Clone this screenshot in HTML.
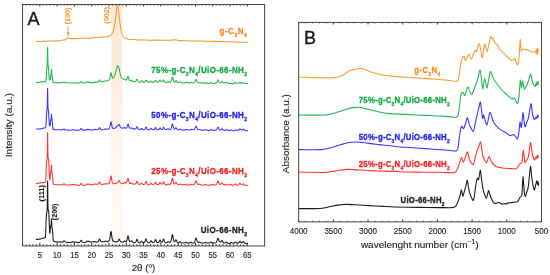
<!DOCTYPE html>
<html lang="en"><head><meta charset="utf-8"><title>XRD and FTIR of g-C3N4/UiO-66-NH2</title>
<style>html,body{margin:0;padding:0;background:#fff}svg{display:block}</style></head>
<body>
<svg width="550" height="275" viewBox="0 0 550 275">
<defs><linearGradient id="band" x1="0" y1="0" x2="0" y2="1"><stop offset="0" stop-color="#fde9d9"/><stop offset="0.3" stop-color="#fdecde"/><stop offset="0.5" stop-color="#fef2e8"/><stop offset="0.72" stop-color="#fff7f1"/><stop offset="1" stop-color="#fffaf6"/></linearGradient></defs>
<rect width="550" height="275" fill="#fff"/>
<rect x="111.2" y="4.5" width="11.0" height="241.45" fill="url(#band)"/>
<path d="M22.55 245.95v-3.2M22.55 4.5v2.0M26.01 245.95v-1.6M26.01 4.5v1.0M29.47 245.95v-1.6M29.47 4.5v1.0M32.92 245.95v-1.6M32.92 4.5v1.0M36.38 245.95v-1.6M36.38 4.5v1.0M39.84 245.95v-3.2M39.84 4.5v2.0M43.30 245.95v-1.6M43.30 4.5v1.0M46.76 245.95v-1.6M46.76 4.5v1.0M50.21 245.95v-1.6M50.21 4.5v1.0M53.67 245.95v-1.6M53.67 4.5v1.0M57.13 245.95v-3.2M57.13 4.5v2.0M60.59 245.95v-1.6M60.59 4.5v1.0M64.04 245.95v-1.6M64.04 4.5v1.0M67.50 245.95v-1.6M67.50 4.5v1.0M70.96 245.95v-1.6M70.96 4.5v1.0M74.42 245.95v-3.2M74.42 4.5v2.0M77.88 245.95v-1.6M77.88 4.5v1.0M81.33 245.95v-1.6M81.33 4.5v1.0M84.79 245.95v-1.6M84.79 4.5v1.0M88.25 245.95v-1.6M88.25 4.5v1.0M91.71 245.95v-3.2M91.71 4.5v2.0M95.17 245.95v-1.6M95.17 4.5v1.0M98.62 245.95v-1.6M98.62 4.5v1.0M102.08 245.95v-1.6M102.08 4.5v1.0M105.54 245.95v-1.6M105.54 4.5v1.0M109.00 245.95v-3.2M109.00 4.5v2.0M112.45 245.95v-1.6M112.45 4.5v1.0M115.91 245.95v-1.6M115.91 4.5v1.0M119.37 245.95v-1.6M119.37 4.5v1.0M122.83 245.95v-1.6M122.83 4.5v1.0M126.29 245.95v-3.2M126.29 4.5v2.0M129.74 245.95v-1.6M129.74 4.5v1.0M133.20 245.95v-1.6M133.20 4.5v1.0M136.66 245.95v-1.6M136.66 4.5v1.0M140.12 245.95v-1.6M140.12 4.5v1.0M143.58 245.95v-3.2M143.58 4.5v2.0M147.03 245.95v-1.6M147.03 4.5v1.0M150.49 245.95v-1.6M150.49 4.5v1.0M153.95 245.95v-1.6M153.95 4.5v1.0M157.41 245.95v-1.6M157.41 4.5v1.0M160.86 245.95v-3.2M160.86 4.5v2.0M164.32 245.95v-1.6M164.32 4.5v1.0M167.78 245.95v-1.6M167.78 4.5v1.0M171.24 245.95v-1.6M171.24 4.5v1.0M174.70 245.95v-1.6M174.70 4.5v1.0M178.15 245.95v-3.2M178.15 4.5v2.0M181.61 245.95v-1.6M181.61 4.5v1.0M185.07 245.95v-1.6M185.07 4.5v1.0M188.53 245.95v-1.6M188.53 4.5v1.0M191.99 245.95v-1.6M191.99 4.5v1.0M195.44 245.95v-3.2M195.44 4.5v2.0M198.90 245.95v-1.6M198.90 4.5v1.0M202.36 245.95v-1.6M202.36 4.5v1.0M205.82 245.95v-1.6M205.82 4.5v1.0M209.27 245.95v-1.6M209.27 4.5v1.0M212.73 245.95v-3.2M212.73 4.5v2.0M216.19 245.95v-1.6M216.19 4.5v1.0M219.65 245.95v-1.6M219.65 4.5v1.0M223.11 245.95v-1.6M223.11 4.5v1.0M226.56 245.95v-1.6M226.56 4.5v1.0M230.02 245.95v-3.2M230.02 4.5v2.0M233.48 245.95v-1.6M233.48 4.5v1.0M236.94 245.95v-1.6M236.94 4.5v1.0M240.40 245.95v-1.6M240.40 4.5v1.0M243.85 245.95v-1.6M243.85 4.5v1.0M247.31 245.95v-3.2M247.31 4.5v2.0" stroke="#2a2a2a" stroke-width="1" fill="none"/>
<path d="M298.65 221.85v-2.4M298.65 22.45v2.0M305.59 221.85v-1.1M305.59 22.45v0.9M312.52 221.85v-1.1M312.52 22.45v0.9M319.46 221.85v-1.1M319.46 22.45v0.9M326.40 221.85v-1.1M326.40 22.45v0.9M333.34 221.85v-2.4M333.34 22.45v2.0M340.27 221.85v-1.1M340.27 22.45v0.9M347.21 221.85v-1.1M347.21 22.45v0.9M354.15 221.85v-1.1M354.15 22.45v0.9M361.08 221.85v-1.1M361.08 22.45v0.9M368.02 221.85v-2.4M368.02 22.45v2.0M374.96 221.85v-1.1M374.96 22.45v0.9M381.90 221.85v-1.1M381.90 22.45v0.9M388.83 221.85v-1.1M388.83 22.45v0.9M395.77 221.85v-1.1M395.77 22.45v0.9M402.71 221.85v-2.4M402.71 22.45v2.0M409.64 221.85v-1.1M409.64 22.45v0.9M416.58 221.85v-1.1M416.58 22.45v0.9M423.52 221.85v-1.1M423.52 22.45v0.9M430.46 221.85v-1.1M430.46 22.45v0.9M437.39 221.85v-2.4M437.39 22.45v2.0M444.33 221.85v-1.1M444.33 22.45v0.9M451.27 221.85v-1.1M451.27 22.45v0.9M458.20 221.85v-1.1M458.20 22.45v0.9M465.14 221.85v-1.1M465.14 22.45v0.9M472.08 221.85v-2.4M472.08 22.45v2.0M479.02 221.85v-1.1M479.02 22.45v0.9M485.95 221.85v-1.1M485.95 22.45v0.9M492.89 221.85v-1.1M492.89 22.45v0.9M499.83 221.85v-1.1M499.83 22.45v0.9M506.76 221.85v-2.4M506.76 22.45v2.0M513.70 221.85v-1.1M513.70 22.45v0.9M520.64 221.85v-1.1M520.64 22.45v0.9M527.58 221.85v-1.1M527.58 22.45v0.9M534.51 221.85v-1.1M534.51 22.45v0.9M541.45 221.85v-2.4M541.45 22.45v2.0" stroke="#2a2a2a" stroke-width="1" fill="none"/>
<path d="M36.30 41.41L36.55 41.43L36.80 41.44L37.05 41.46L37.30 41.48L37.55 41.50L37.80 41.51L38.05 41.53L38.30 41.55L38.55 41.55L38.80 41.55L39.05 41.54L39.30 41.54L39.55 41.53L39.80 41.53L40.05 41.52L40.30 41.52L40.55 41.51L40.80 41.50L41.05 41.49L41.30 41.48L41.55 41.47L41.80 41.45L42.05 41.44L42.30 41.43L42.55 41.41L42.80 41.40L43.05 41.38L43.30 41.37L43.55 41.36L43.80 41.36L44.05 41.35L44.10 41.34L44.15 41.34L44.20 41.34L44.25 41.34L44.30 41.34L44.35 41.34L44.40 41.33L44.45 41.33L44.50 41.33L44.55 41.33L44.60 41.33L44.65 41.33L44.70 41.32L44.75 41.32L44.80 41.32L44.85 41.32L44.90 41.32L44.95 41.31L45.00 41.31L45.05 41.31L45.10 41.31L45.15 41.31L45.20 41.30L45.25 41.30L45.30 41.30L45.35 41.30L45.40 41.30L45.45 41.30L45.50 41.29L45.55 41.29L45.60 41.29L45.65 41.29L45.70 41.28L45.75 41.28L45.80 41.28L45.85 41.27L45.90 41.27L45.95 41.26L46.00 41.26L46.05 41.26L46.10 41.25L46.15 41.25L46.20 41.25L46.25 41.24L46.30 41.24L46.35 41.24L46.40 41.23L46.45 41.23L46.50 41.22L46.55 41.22L46.60 41.22L46.65 41.21L46.70 41.21L46.75 41.21L46.80 41.20L46.85 41.20L46.90 41.19L46.95 41.19L47.00 41.19L47.05 41.18L47.10 41.18L47.15 41.18L47.20 41.17L47.25 41.17L47.30 41.17L47.35 41.16L47.40 41.16L47.45 41.15L47.50 41.15L47.55 41.15L47.60 41.14L47.65 41.14L47.70 41.14L47.75 41.13L47.80 41.13L47.85 41.13L47.90 41.12L47.95 41.12L48.00 41.11L48.05 41.11L48.10 41.11L48.15 41.11L48.20 41.11L48.25 41.10L48.30 41.10L48.35 41.10L48.40 41.10L48.45 41.09L48.50 41.09L48.55 41.09L48.60 41.09L48.65 41.08L48.70 41.08L48.75 41.08L48.80 41.08L48.85 41.07L48.90 41.07L48.95 41.07L49.00 41.07L49.05 41.07L49.10 41.06L49.15 41.06L49.20 41.06L49.25 41.06L49.30 41.05L49.35 41.05L49.40 41.05L49.45 41.05L49.50 41.05L49.55 41.04L49.60 41.04L49.65 41.04L49.70 41.04L49.75 41.03L49.80 41.03L49.85 41.03L49.90 41.03L49.95 41.03L50.00 41.02L50.05 41.02L50.10 41.02L50.15 41.02L50.20 41.01L50.25 41.01L50.30 41.01L50.35 41.01L50.40 41.01L50.45 41.01L50.50 41.01L50.55 41.01L50.60 41.01L50.65 41.01L50.70 41.01L50.75 41.01L50.80 41.01L50.85 41.01L50.90 41.01L50.95 41.01L51.00 41.01L51.05 41.01L51.10 41.01L51.15 41.01L51.20 41.01L51.25 41.02L51.30 41.02L51.35 41.02L51.40 41.02L51.45 41.02L51.50 41.02L51.55 41.02L51.60 41.02L51.65 41.02L51.70 41.02L51.75 41.02L51.80 41.02L51.85 41.02L51.90 41.02L51.95 41.02L52.00 41.03L52.05 41.03L52.10 41.03L52.15 41.03L52.20 41.03L52.25 41.03L52.30 41.03L52.35 41.03L52.40 41.03L52.45 41.03L52.50 41.03L52.55 41.03L52.60 41.03L52.65 41.04L52.70 41.04L52.75 41.04L52.80 41.04L52.85 41.03L52.90 41.03L52.95 41.03L53.00 41.02L53.05 41.02L53.10 41.02L53.15 41.02L53.20 41.01L53.25 41.01L53.30 41.01L53.35 41.00L53.40 41.00L53.45 41.00L53.50 40.99L53.55 40.99L53.60 40.99L53.65 40.98L53.70 40.98L53.75 40.98L53.80 40.97L53.85 40.97L53.90 40.97L53.95 40.97L54.00 40.96L54.05 40.96L54.10 40.96L54.15 40.95L54.20 40.95L54.25 40.95L54.30 40.94L54.35 40.94L54.40 40.94L54.45 40.94L54.50 40.93L54.55 40.93L54.60 40.93L54.65 40.92L54.70 40.92L54.75 40.92L54.80 40.91L54.85 40.91L54.90 40.91L54.95 40.91L55.00 40.90L55.05 40.90L55.30 40.89L55.55 40.89L55.80 40.89L56.05 40.89L56.30 40.89L56.55 40.89L56.80 40.89L57.05 40.89L57.30 40.89L57.55 40.89L57.80 40.89L58.05 40.89L58.30 40.89L58.55 40.87L58.80 40.85L59.05 40.83L59.30 40.79L59.55 40.75L59.80 40.71L60.05 40.66L60.30 40.60L60.55 40.55L60.80 40.48L61.05 40.42L61.30 40.36L61.55 40.30L61.80 40.23L62.05 40.17L62.30 40.12L62.55 40.07L62.80 40.03L63.05 40.00L63.30 39.97L63.55 39.94L63.80 39.92L64.05 39.91L64.30 39.91L64.55 39.91L64.80 39.88L65.05 39.78L65.30 39.65L65.55 39.48L65.80 39.30L66.05 39.10L66.30 38.90L66.55 38.70L66.80 38.51L67.05 38.32L67.30 38.15L67.55 38.00L67.80 37.87L68.05 37.78L68.30 37.79L68.55 37.90L68.80 38.05L69.05 38.21L69.30 38.35L69.55 38.45L69.80 38.51L70.05 38.54L70.30 38.57L70.55 38.59L70.80 38.60L71.05 38.61L71.30 38.61L71.55 38.62L71.80 38.62L72.05 38.61L72.30 38.62L72.55 38.62L72.80 38.62L73.05 38.62L73.30 38.62L73.55 38.62L73.80 38.61L74.05 38.61L74.30 38.61L74.55 38.60L74.80 38.59L75.05 38.58L75.30 38.57L75.55 38.56L75.80 38.55L76.05 38.53L76.30 38.52L76.55 38.51L76.80 38.49L77.05 38.49L77.30 38.48L77.55 38.47L77.80 38.46L78.05 38.45L78.30 38.45L78.55 38.44L78.80 38.43L79.05 38.42L79.30 38.41L79.55 38.39L79.80 38.38L80.05 38.36L80.30 38.34L80.55 38.33L80.80 38.31L81.05 38.30L81.30 38.28L81.55 38.27L81.80 38.25L82.05 38.24L82.30 38.22L82.55 38.21L82.80 38.20L83.05 38.18L83.30 38.17L83.55 38.16L83.80 38.15L84.05 38.14L84.30 38.15L84.55 38.16L84.80 38.16L85.05 38.17L85.30 38.19L85.55 38.20L85.80 38.21L86.05 38.22L86.30 38.23L86.55 38.23L86.80 38.23L87.05 38.22L87.30 38.22L87.55 38.21L87.80 38.20L88.05 38.19L88.30 38.18L88.55 38.17L88.80 38.16L89.05 38.14L89.30 38.13L89.55 38.11L89.80 38.09L90.05 38.07L90.30 38.06L90.55 38.04L90.80 38.02L91.05 38.00L91.30 37.98L91.55 37.96L91.80 37.94L92.05 37.92L92.30 37.90L92.55 37.88L92.80 37.86L93.05 37.83L93.30 37.81L93.55 37.79L93.80 37.77L94.05 37.74L94.30 37.71L94.55 37.68L94.80 37.66L95.05 37.63L95.30 37.60L95.55 37.57L95.80 37.55L96.05 37.52L96.30 37.50L96.55 37.48L96.80 37.46L97.05 37.44L97.30 37.42L97.55 37.40L97.80 37.38L98.05 37.37L98.30 37.35L98.55 37.33L98.80 37.32L99.05 37.30L99.30 37.29L99.55 37.27L99.80 37.26L100.05 37.25L100.30 37.24L100.55 37.22L100.80 37.21L101.05 37.19L101.30 37.18L101.55 37.16L101.80 37.14L102.05 37.12L102.30 37.11L102.55 37.09L102.80 37.07L103.05 37.05L103.30 37.04L103.55 37.04L103.80 37.03L104.05 37.03L104.30 37.02L104.55 37.02L104.80 37.01L105.05 37.00L105.30 36.99L105.55 36.97L105.80 36.94L106.05 36.90L106.30 36.85L106.55 36.81L106.80 36.76L107.05 36.70L107.30 36.64L107.55 36.58L107.80 36.51L108.05 36.44L108.30 36.37L108.55 36.30L108.80 36.22L109.05 36.13L109.30 36.03L109.55 35.93L109.80 35.80L110.05 35.67L110.30 35.51L110.55 35.33L110.80 35.11L111.05 34.87L111.30 34.60L111.55 34.29L111.80 33.93L112.05 33.53L112.30 33.07L112.55 32.55L112.80 31.96L113.05 31.30L113.30 30.56L113.55 29.70L113.80 28.72L114.05 27.61L114.30 26.36L114.55 24.96L114.80 23.40L115.05 21.70L115.30 19.85L115.55 17.87L115.80 15.80L116.05 13.71L116.30 11.67L116.55 9.79L116.80 8.17L117.05 6.97L117.30 6.28L117.55 6.18L117.80 6.68L118.05 7.75L118.30 9.28L118.55 11.17L118.80 13.28L119.05 15.50L119.30 17.72L119.55 19.89L119.80 21.95L120.05 23.88L120.30 25.67L120.55 27.29L120.80 28.75L121.05 30.06L121.30 31.21L121.55 32.22L121.80 33.10L122.05 33.87L122.30 34.53L122.55 35.11L122.80 35.62L123.05 36.06L123.30 36.45L123.55 36.78L123.80 37.08L124.05 37.34L124.30 37.58L124.55 37.79L124.80 37.97L125.05 38.12L125.30 38.25L125.55 38.36L125.80 38.47L126.05 38.56L126.30 38.65L126.55 38.72L126.80 38.79L127.05 38.85L127.30 38.92L127.55 38.99L127.80 39.05L128.05 39.11L128.30 39.17L128.55 39.22L128.80 39.28L129.05 39.32L129.30 39.37L129.55 39.41L129.80 39.43L130.05 39.44L130.30 39.46L130.55 39.47L130.80 39.48L131.05 39.49L131.30 39.49L131.55 39.50L131.80 39.50L132.05 39.51L132.30 39.52L132.55 39.53L132.80 39.53L133.05 39.54L133.30 39.55L133.55 39.56L133.80 39.56L134.05 39.57L134.30 39.58L134.55 39.59L134.80 39.62L135.05 39.64L135.30 39.67L135.55 39.69L135.80 39.72L136.05 39.74L136.30 39.77L136.55 39.79L136.80 39.81L137.05 39.83L137.30 39.84L137.55 39.85L137.80 39.87L138.05 39.88L138.30 39.89L138.55 39.90L138.80 39.91L139.05 39.93L139.30 39.93L139.55 39.93L139.80 39.93L140.05 39.92L140.30 39.92L140.55 39.92L140.80 39.91L141.05 39.91L141.30 39.91L141.55 39.90L141.80 39.90L142.05 39.91L142.30 39.91L142.55 39.91L142.80 39.91L143.05 39.92L143.30 39.92L143.55 39.92L143.80 39.92L144.05 39.93L144.30 39.94L144.55 39.95L144.80 39.96L145.05 39.97L145.30 39.98L145.55 39.99L145.80 40.00L146.05 40.01L146.30 40.02L146.55 40.03L146.80 40.05L147.05 40.07L147.30 40.09L147.55 40.10L147.80 40.12L148.05 40.14L148.30 40.15L148.55 40.17L148.80 40.19L149.05 40.19L149.30 40.19L149.55 40.19L149.80 40.19L150.05 40.19L150.30 40.19L150.55 40.19L150.80 40.18L151.05 40.18L151.30 40.18L151.55 40.17L151.80 40.16L152.05 40.15L152.30 40.14L152.55 40.13L152.80 40.12L153.05 40.11L153.30 40.10L153.55 40.09L153.80 40.09L154.05 40.09L154.30 40.10L154.55 40.10L154.80 40.11L155.05 40.11L155.30 40.12L155.55 40.12L155.80 40.13L156.05 40.13L156.30 40.13L156.55 40.13L156.80 40.13L157.05 40.13L157.30 40.13L157.55 40.13L157.80 40.12L158.05 40.12L158.30 40.12L158.55 40.12L158.80 40.12L159.05 40.12L159.30 40.12L159.55 40.12L159.80 40.12L160.05 40.12L160.30 40.12L160.55 40.12L160.80 40.12L161.05 40.14L161.30 40.16L161.55 40.17L161.80 40.19L162.05 40.21L162.30 40.23L162.55 40.24L162.80 40.26L163.05 40.28L163.30 40.29L163.55 40.28L163.80 40.27L164.05 40.26L164.30 40.25L164.55 40.24L164.80 40.23L165.05 40.22L165.30 40.21L165.55 40.20L165.80 40.21L166.05 40.22L166.30 40.23L166.55 40.24L166.80 40.25L167.05 40.26L167.30 40.28L167.55 40.29L167.80 40.30L168.05 40.31L168.30 40.31L168.55 40.31L168.80 40.31L169.05 40.31L169.30 40.30L169.55 40.30L169.80 40.29L170.05 40.29L170.30 40.28L170.55 40.26L170.80 40.25L171.05 40.22L171.30 40.20L171.55 40.17L171.80 40.14L172.05 40.10L172.30 40.06L172.55 40.02L172.80 39.98L173.05 39.95L173.30 39.92L173.55 39.89L173.80 39.87L174.05 39.85L174.30 39.83L174.55 39.83L174.80 39.83L175.05 39.85L175.30 39.86L175.55 39.88L175.80 39.90L176.05 39.93L176.30 39.96L176.55 40.00L176.80 40.05L177.05 40.09L177.30 40.13L177.55 40.17L177.80 40.23L178.05 40.29L178.30 40.34L178.55 40.39L178.80 40.44L179.05 40.48L179.30 40.52L179.55 40.56L179.80 40.59L180.05 40.62L180.30 40.62L180.55 40.63L180.80 40.63L181.05 40.64L181.30 40.64L181.55 40.64L181.80 40.64L182.05 40.64L182.30 40.64L182.55 40.64L182.80 40.66L183.05 40.68L183.30 40.69L183.55 40.71L183.80 40.72L184.05 40.73L184.30 40.75L184.55 40.76L184.80 40.78L185.05 40.78L185.30 40.78L185.55 40.79L185.80 40.79L186.05 40.79L186.30 40.80L186.55 40.80L186.80 40.80L187.05 40.81L187.30 40.81L187.55 40.82L187.80 40.83L188.05 40.84L188.30 40.84L188.55 40.85L188.80 40.86L189.05 40.87L189.30 40.87L189.55 40.88L189.80 40.90L190.05 40.92L190.30 40.94L190.55 40.96L190.80 40.98L191.05 41.00L191.30 41.02L191.55 41.04L191.80 41.06L192.05 41.08L192.30 41.08L192.55 41.08L192.80 41.08L193.05 41.08L193.30 41.09L193.55 41.09L193.80 41.09L194.05 41.09L194.30 41.09L194.55 41.08L194.80 41.08L195.05 41.07L195.30 41.06L195.55 41.06L195.80 41.05L196.05 41.04L196.30 41.03L196.55 41.03L196.80 41.02L197.05 41.03L197.30 41.05L197.55 41.06L197.80 41.08L198.05 41.09L198.30 41.10L198.55 41.12L198.80 41.13L199.05 41.14L199.30 41.14L199.55 41.13L199.80 41.12L200.05 41.10L200.30 41.09L200.55 41.08L200.80 41.06L201.05 41.05L201.30 41.04L201.55 41.02L201.80 41.03L202.05 41.03L202.30 41.04L202.55 41.04L202.80 41.05L203.05 41.06L203.30 41.06L203.55 41.07L203.80 41.07L204.05 41.08L204.30 41.10L204.55 41.11L204.80 41.12L205.05 41.13L205.30 41.15L205.55 41.16L205.80 41.17L206.05 41.19L206.30 41.20L206.55 41.21L206.80 41.21L207.05 41.21L207.30 41.21L207.55 41.21L207.80 41.21L208.05 41.21L208.30 41.21L208.55 41.21L208.80 41.21L209.05 41.21L209.30 41.20L209.55 41.20L209.80 41.19L210.05 41.19L210.30 41.18L210.55 41.18L210.80 41.17L211.05 41.17L211.30 41.18L211.55 41.20L211.80 41.23L212.05 41.25L212.30 41.28L212.55 41.30L212.80 41.33L213.05 41.36L213.30 41.38L213.55 41.41L213.80 41.41L214.05 41.40L214.30 41.39L214.55 41.38L214.80 41.37L215.05 41.37L215.30 41.36L215.55 41.35L215.80 41.34L216.05 41.34L216.30 41.35L216.55 41.36L216.80 41.37L217.05 41.38L217.30 41.39L217.55 41.40L217.80 41.41L218.05 41.42L218.30 41.43L218.55 41.44L218.80 41.46L219.05 41.48L219.30 41.50L219.55 41.52L219.80 41.54L220.05 41.56L220.30 41.58L220.55 41.60L220.80 41.62L221.05 41.62L221.30 41.62L221.55 41.62L221.80 41.62L222.05 41.62L222.30 41.62L222.55 41.62L222.80 41.62L223.05 41.62L223.30 41.62L223.55 41.63L223.80 41.64L224.05 41.65L224.30 41.66L224.55 41.67L224.80 41.68L225.05 41.69L225.30 41.69L225.55 41.70L225.80 41.71L226.05 41.71L226.30 41.72L226.55 41.72L226.80 41.73L227.05 41.73L227.30 41.74L227.55 41.74L227.80 41.75L228.05 41.75L228.30 41.76L228.55 41.77L228.80 41.78L229.05 41.79L229.30 41.80L229.55 41.81L229.80 41.82L230.05 41.83L230.30 41.84L230.55 41.85L230.80 41.87L231.05 41.89L231.30 41.91L231.55 41.93L231.80 41.95L232.05 41.96L232.30 41.98L232.55 42.00L232.80 42.02L233.05 42.02L233.30 42.02L233.55 42.02L233.80 42.02L234.05 42.02L234.30 42.02L234.55 42.03L234.80 42.03L235.05 42.03L235.30 42.03L235.55 42.05L235.80 42.06L236.05 42.08L236.30 42.09L236.55 42.11L236.80 42.12L237.05 42.13L237.30 42.15L237.55 42.16L237.80 42.17L238.05 42.17L238.30 42.17L238.55 42.17L238.80 42.17L239.05 42.17L239.30 42.17L239.55 42.17L239.80 42.17L240.05 42.18L240.30 42.18L240.55 42.19L240.80 42.20L241.05 42.20L241.30 42.21L241.55 42.22L241.80 42.22L242.05 42.23L242.30 42.23L242.55 42.24L242.80 42.26L243.05 42.27L243.30 42.29L243.55 42.30L243.80 42.31L244.05 42.33L244.30 42.34L244.55 42.35L244.80 42.37L245.05 42.36L245.30 42.35L245.55 42.34L245.80 42.34L246.05 42.33L246.30 42.32L246.55 42.31L246.80 42.30L247.05 42.29L247.30 42.29L247.55 42.29" stroke="#f99a30" stroke-width="1.08" fill="none" stroke-linejoin="round" stroke-linecap="round"/>
<path d="M36.30 82.72L36.55 82.68L36.80 82.64L37.05 82.59L37.30 82.54L37.55 82.49L37.80 82.44L38.05 82.38L38.30 82.32L38.55 82.29L38.80 82.27L39.05 82.25L39.30 82.23L39.55 82.21L39.80 82.19L40.05 82.16L40.30 82.14L40.55 82.12L40.80 82.09L41.05 82.06L41.30 82.03L41.55 81.99L41.80 81.96L42.05 81.93L42.30 81.89L42.55 81.86L42.80 81.83L43.05 81.79L43.30 81.77L43.55 81.77L43.80 81.78L44.05 81.78L44.10 81.78L44.15 81.78L44.20 81.78L44.25 81.78L44.30 81.78L44.35 81.77L44.40 81.77L44.45 81.77L44.50 81.77L44.55 81.77L44.60 81.77L44.65 81.77L44.70 81.77L44.75 81.77L44.80 81.77L44.85 81.77L44.90 81.76L44.95 81.76L45.00 81.76L45.05 81.76L45.10 81.76L45.15 81.75L45.20 81.75L45.25 81.75L45.30 81.74L45.35 81.74L45.40 81.73L45.45 81.72L45.50 81.70L45.55 81.68L45.60 81.64L45.65 81.58L45.70 81.50L45.75 81.38L45.80 81.23L45.85 81.03L45.90 80.78L45.95 80.47L46.00 80.09L46.05 79.63L46.10 79.10L46.15 78.50L46.20 77.82L46.25 77.08L46.30 76.28L46.35 75.44L46.40 74.58L46.45 73.70L46.50 72.82L46.55 71.96L46.60 71.13L46.65 70.34L46.70 69.60L46.75 68.92L46.80 68.31L46.85 67.76L46.90 67.27L46.95 66.84L47.00 66.45L47.05 66.06L47.10 65.63L47.15 65.04L47.20 64.18L47.25 62.91L47.30 61.08L47.35 58.66L47.40 55.77L47.45 52.72L47.50 49.96L47.55 48.02L47.60 47.30L47.65 47.96L47.70 49.83L47.75 52.53L47.80 55.52L47.85 58.35L47.90 60.70L47.95 62.46L48.00 63.68L48.05 64.47L48.10 64.99L48.15 65.36L48.20 65.69L48.25 66.02L48.30 66.38L48.35 66.81L48.40 67.30L48.45 67.86L48.50 68.48L48.55 69.16L48.60 69.90L48.65 70.67L48.70 71.49L48.75 72.31L48.80 73.15L48.85 73.97L48.90 74.76L48.95 75.52L49.00 76.22L49.05 76.86L49.10 77.44L49.15 77.94L49.20 78.36L49.25 78.72L49.30 79.01L49.35 79.24L49.40 79.42L49.45 79.56L49.50 79.66L49.55 79.73L49.60 79.79L49.65 79.83L49.70 79.86L49.75 79.88L49.80 79.89L49.85 79.89L49.90 79.89L49.95 79.86L50.00 79.82L50.05 79.75L50.10 79.64L50.15 79.49L50.20 79.30L50.25 79.06L50.30 78.77L50.35 78.43L50.40 78.06L50.45 77.67L50.50 77.25L50.55 76.83L50.60 76.41L50.65 76.01L50.70 75.63L50.75 75.28L50.80 74.97L50.85 74.71L50.90 74.48L50.95 74.28L51.00 74.10L51.05 73.90L51.10 73.66L51.15 73.32L51.20 72.85L51.25 72.24L51.30 71.50L51.35 70.73L51.40 70.04L51.45 69.58L51.50 69.45L51.55 69.68L51.60 70.26L51.65 71.05L51.70 71.93L51.75 72.77L51.80 73.49L51.85 74.06L51.90 74.50L51.95 74.85L52.00 75.15L52.05 75.43L52.10 75.73L52.15 76.05L52.20 76.42L52.25 76.82L52.30 77.26L52.35 77.73L52.40 78.23L52.45 78.74L52.50 79.25L52.55 79.75L52.60 80.22L52.65 80.67L52.70 81.07L52.75 81.42L52.80 81.72L52.85 81.95L52.90 82.14L52.95 82.28L53.00 82.39L53.05 82.46L53.10 82.52L53.15 82.55L53.20 82.58L53.25 82.59L53.30 82.60L53.35 82.61L53.40 82.61L53.45 82.62L53.50 82.62L53.55 82.62L53.60 82.62L53.65 82.62L53.70 82.62L53.75 82.62L53.80 82.62L53.85 82.62L53.90 82.62L53.95 82.62L54.00 82.62L54.05 82.62L54.10 82.62L54.15 82.62L54.20 82.62L54.25 82.61L54.30 82.61L54.35 82.61L54.40 82.61L54.45 82.61L54.50 82.60L54.55 82.60L54.60 82.60L54.65 82.60L54.70 82.59L54.75 82.59L54.80 82.59L54.85 82.58L54.90 82.58L54.95 82.58L55.00 82.57L55.05 82.57L55.30 82.58L55.55 82.63L55.80 82.67L56.05 82.71L56.30 82.75L56.55 82.79L56.80 82.83L57.05 82.87L57.30 82.90L57.55 82.94L57.80 82.92L58.05 82.90L58.30 82.87L58.55 82.84L58.80 82.81L59.05 82.79L59.30 82.76L59.55 82.73L59.80 82.70L60.05 82.68L60.30 82.67L60.55 82.66L60.80 82.65L61.05 82.64L61.30 82.62L61.55 82.61L61.80 82.59L62.05 82.56L62.30 82.52L62.55 82.48L62.80 82.44L63.05 82.35L63.30 82.20L63.55 82.03L63.80 81.89L64.05 81.89L64.30 82.06L64.55 82.33L64.80 82.61L65.05 82.75L65.30 82.84L65.55 82.88L65.80 82.90L66.05 82.89L66.30 82.88L66.55 82.85L66.80 82.83L67.05 82.80L67.30 82.78L67.55 82.79L67.80 82.80L68.05 82.80L68.30 82.81L68.55 82.81L68.80 82.81L69.05 82.81L69.30 82.81L69.55 82.81L69.80 82.85L70.05 82.89L70.30 82.93L70.55 82.96L70.80 82.98L71.05 82.99L71.30 82.98L71.55 82.93L71.80 82.85L72.05 82.75L72.30 82.62L72.55 82.58L72.80 82.64L73.05 82.77L73.30 82.88L73.55 82.97L73.80 83.00L74.05 83.00L74.30 82.95L74.55 82.86L74.80 82.77L75.05 82.72L75.30 82.74L75.55 82.79L75.80 82.84L76.05 82.88L76.30 82.89L76.55 82.89L76.80 82.87L77.05 82.92L77.30 82.97L77.55 83.01L77.80 83.04L78.05 83.08L78.30 83.11L78.55 83.14L78.80 83.16L79.05 83.18L79.30 83.16L79.55 83.07L79.80 82.95L80.05 82.77L80.30 82.52L80.55 82.20L80.80 81.84L81.05 81.57L81.30 81.51L81.55 81.70L81.80 82.01L82.05 82.32L82.30 82.56L82.55 82.73L82.80 82.83L83.05 82.90L83.30 82.93L83.55 82.95L83.80 82.97L84.05 82.97L84.30 82.93L84.55 82.89L84.80 82.85L85.05 82.79L85.30 82.72L85.55 82.63L85.80 82.51L86.05 82.34L86.30 82.13L86.55 81.93L86.80 81.78L87.05 81.76L87.30 81.87L87.55 82.06L87.80 82.24L88.05 82.35L88.30 82.39L88.55 82.38L88.80 82.36L89.05 82.33L89.30 82.38L89.55 82.47L89.80 82.55L90.05 82.62L90.30 82.66L90.55 82.67L90.80 82.67L91.05 82.66L91.30 82.65L91.55 82.65L91.80 82.66L92.05 82.66L92.30 82.65L92.55 82.65L92.80 82.63L93.05 82.60L93.30 82.56L93.55 82.48L93.80 82.37L94.05 82.24L94.30 82.12L94.55 82.08L94.80 82.11L95.05 82.20L95.30 82.29L95.55 82.35L95.80 82.39L96.05 82.40L96.30 82.37L96.55 82.33L96.80 82.28L97.05 82.22L97.30 82.15L97.55 82.07L97.80 81.97L98.05 81.83L98.30 81.63L98.55 81.37L98.80 81.03L99.05 80.61L99.30 80.19L99.55 79.96L99.80 80.05L100.05 80.40L100.30 80.82L100.55 81.18L100.80 81.44L101.05 81.60L101.30 81.69L101.55 81.73L101.80 81.74L102.05 81.74L102.30 81.72L102.55 81.70L102.80 81.68L103.05 81.65L103.30 81.61L103.55 81.58L103.80 81.54L104.05 81.48L104.30 81.39L104.55 81.28L104.80 81.14L105.05 80.97L105.30 80.83L105.55 80.76L105.80 80.78L106.05 80.85L106.30 80.92L106.55 80.96L106.80 80.97L107.05 80.94L107.30 80.89L107.55 80.83L107.80 80.74L108.05 80.64L108.30 80.54L108.55 80.42L108.80 80.25L109.05 80.02L109.30 79.68L109.55 79.16L109.80 78.40L110.05 77.34L110.30 75.99L110.55 74.50L110.80 73.26L111.05 72.84L111.30 73.44L111.55 74.62L111.80 75.86L112.05 76.87L112.30 77.57L112.55 77.97L112.80 78.13L113.05 78.06L113.30 77.88L113.55 77.61L113.80 77.26L114.05 76.83L114.30 76.34L114.55 75.76L114.80 75.10L115.05 74.35L115.30 73.54L115.55 72.68L115.80 71.74L116.05 70.73L116.30 69.68L116.55 68.63L116.80 67.65L117.05 66.82L117.30 66.21L117.55 65.90L117.80 65.84L118.05 66.05L118.30 66.47L118.55 67.02L118.80 67.68L119.05 68.47L119.30 69.48L119.55 70.69L119.80 71.96L120.05 73.15L120.30 74.22L120.55 75.13L120.80 75.88L121.05 76.50L121.30 77.02L121.55 77.46L121.80 77.82L122.05 78.13L122.30 78.40L122.55 78.64L122.80 78.85L123.05 79.01L123.30 79.13L123.55 79.18L123.80 79.17L124.05 79.12L124.30 79.08L124.55 79.15L124.80 79.37L125.05 79.60L125.30 79.82L125.55 79.99L125.80 80.08L126.05 80.09L126.30 79.99L126.55 79.77L126.80 79.38L127.05 78.79L127.30 78.01L127.55 77.15L127.80 76.45L128.05 76.28L128.30 76.77L128.55 77.65L128.80 78.57L129.05 79.34L129.30 79.92L129.55 80.30L129.80 80.55L130.05 80.68L130.30 80.72L130.55 80.68L130.80 80.57L131.05 80.42L131.30 80.29L131.55 80.30L131.80 80.47L132.05 80.73L132.30 81.00L132.55 81.22L132.80 81.39L133.05 81.51L133.30 81.59L133.55 81.66L133.80 81.70L134.05 81.74L134.30 81.77L134.55 81.76L134.80 81.71L135.05 81.64L135.30 81.54L135.55 81.38L135.80 81.14L136.05 80.77L136.30 80.29L136.55 79.73L136.80 79.26L137.05 79.20L137.30 79.55L137.55 80.14L137.80 80.73L138.05 81.21L138.30 81.58L138.55 81.83L138.80 82.02L139.05 82.15L139.30 82.20L139.55 82.17L139.80 82.11L140.05 82.03L140.30 81.90L140.55 81.72L140.80 81.49L141.05 81.22L141.30 80.99L141.55 80.89L141.80 81.05L142.05 81.32L142.30 81.59L142.55 81.81L142.80 81.98L143.05 82.10L143.30 82.19L143.55 82.25L143.80 82.28L144.05 82.29L144.30 82.22L144.55 82.10L144.80 81.89L145.05 81.56L145.30 81.11L145.55 80.59L145.80 80.15L146.05 80.03L146.30 80.33L146.55 80.82L146.80 81.30L147.05 81.68L147.30 81.93L147.55 82.08L147.80 82.15L148.05 82.17L148.30 82.16L148.55 82.13L148.80 82.09L149.05 82.12L149.30 82.13L149.55 82.11L149.80 82.03L150.05 81.88L150.30 81.66L150.55 81.39L150.80 81.18L151.05 81.15L151.30 81.33L151.55 81.60L151.80 81.88L152.05 82.09L152.30 82.23L152.55 82.31L152.80 82.34L153.05 82.34L153.30 82.31L153.55 82.26L153.80 82.21L154.05 82.11L154.30 81.93L154.55 81.66L154.80 81.28L155.05 80.84L155.30 80.48L155.55 80.38L155.80 80.63L156.05 81.07L156.30 81.47L156.55 81.79L156.80 82.00L157.05 82.12L157.30 82.17L157.55 82.18L157.80 82.16L158.05 82.11L158.30 82.02L158.55 81.91L158.80 81.74L159.05 81.47L159.30 81.11L159.55 80.69L159.80 80.34L160.05 80.23L160.30 80.46L160.55 80.86L160.80 81.26L161.05 81.58L161.30 81.80L161.55 81.92L161.80 81.95L162.05 81.91L162.30 81.77L162.55 81.52L162.80 81.15L163.05 80.68L163.30 80.22L163.55 80.01L163.80 80.18L164.05 80.66L164.30 81.22L164.55 81.71L164.80 82.08L165.05 82.35L165.30 82.53L165.55 82.65L165.80 82.66L166.05 82.63L166.30 82.59L166.55 82.51L166.80 82.41L167.05 82.26L167.30 82.07L167.55 81.86L167.80 81.67L168.05 81.59L168.30 81.70L168.55 81.88L168.80 82.06L169.05 82.20L169.30 82.30L169.55 82.35L169.80 82.36L170.05 82.33L170.30 82.25L170.55 82.08L170.80 81.79L171.05 81.34L171.30 80.68L171.55 79.81L171.80 78.78L172.05 77.78L172.30 77.15L172.55 77.24L172.80 77.98L173.05 79.01L173.30 80.01L173.55 80.83L173.80 81.42L174.05 81.79L174.30 81.98L174.55 82.02L174.80 81.92L175.05 81.70L175.30 81.37L175.55 80.98L175.80 80.66L176.05 80.57L176.30 80.76L176.55 81.11L176.80 81.49L177.05 81.82L177.30 82.07L177.55 82.23L177.80 82.36L178.05 82.43L178.30 82.47L178.55 82.47L178.80 82.43L179.05 82.35L179.30 82.23L179.55 82.08L179.80 81.95L180.05 81.92L180.30 82.04L180.55 82.22L180.80 82.41L181.05 82.56L181.30 82.67L181.55 82.75L181.80 82.80L182.05 82.84L182.30 82.87L182.55 82.90L182.80 82.92L183.05 82.95L183.30 82.97L183.55 82.98L183.80 83.00L184.05 83.01L184.30 83.01L184.55 82.99L184.80 82.96L185.05 82.84L185.30 82.70L185.55 82.53L185.80 82.39L186.05 82.33L186.30 82.36L186.55 82.44L186.80 82.53L187.05 82.59L187.30 82.66L187.55 82.74L187.80 82.81L188.05 82.86L188.30 82.90L188.55 82.94L188.80 82.98L189.05 83.01L189.30 83.03L189.55 83.03L189.80 82.98L190.05 82.89L190.30 82.77L190.55 82.63L190.80 82.52L191.05 82.48L191.30 82.56L191.55 82.69L191.80 82.82L192.05 82.92L192.30 82.99L192.55 83.03L192.80 83.05L193.05 83.04L193.30 83.01L193.55 82.97L193.80 82.89L194.05 82.77L194.30 82.58L194.55 82.27L194.80 81.84L195.05 81.30L195.30 80.68L195.55 80.06L195.80 79.58L196.05 79.41L196.30 79.63L196.55 80.09L196.80 80.63L197.05 81.23L197.30 81.72L197.55 82.10L197.80 82.37L198.05 82.54L198.30 82.63L198.55 82.65L198.80 82.62L199.05 82.56L199.30 82.49L199.55 82.43L199.80 82.48L200.05 82.59L200.30 82.71L200.55 82.80L200.80 82.87L201.05 82.90L201.30 82.91L201.55 82.90L201.80 82.93L202.05 82.97L202.30 83.00L202.55 83.02L202.80 83.05L203.05 83.07L203.30 83.09L203.55 83.11L203.80 83.12L204.05 83.13L204.30 83.13L204.55 83.12L204.80 83.08L205.05 83.02L205.30 82.93L205.55 82.83L205.80 82.74L206.05 82.73L206.30 82.82L206.55 82.96L206.80 83.10L207.05 83.22L207.30 83.31L207.55 83.38L207.80 83.43L208.05 83.46L208.30 83.49L208.55 83.51L208.80 83.53L209.05 83.49L209.30 83.43L209.55 83.37L209.80 83.28L210.05 83.16L210.30 83.00L210.55 82.83L210.80 82.68L211.05 82.61L211.30 82.68L211.55 82.85L211.80 83.02L212.05 83.17L212.30 83.28L212.55 83.36L212.80 83.43L213.05 83.48L213.30 83.52L213.55 83.55L213.80 83.54L214.05 83.51L214.30 83.48L214.55 83.44L214.80 83.40L215.05 83.35L215.30 83.29L215.55 83.22L215.80 83.11L216.05 82.97L216.30 82.77L216.55 82.49L216.80 82.11L217.05 81.63L217.30 81.07L217.55 80.51L217.80 80.09L218.05 79.96L218.30 80.19L218.55 80.66L218.80 81.21L219.05 81.71L219.30 82.12L219.55 82.42L219.80 82.61L220.05 82.70L220.30 82.72L220.55 82.65L220.80 82.51L221.05 82.29L221.30 82.02L221.55 81.75L221.80 81.54L222.05 81.49L222.30 81.63L222.55 81.89L222.80 82.19L223.05 82.46L223.30 82.68L223.55 82.85L223.80 82.97L224.05 83.05L224.30 83.09L224.55 83.10L224.80 83.09L225.05 83.05L225.30 82.98L225.55 82.88L225.80 82.75L226.05 82.62L226.30 82.51L226.55 82.49L226.80 82.58L227.05 82.72L227.30 82.88L227.55 83.02L227.80 83.13L228.05 83.21L228.30 83.29L228.55 83.35L228.80 83.39L229.05 83.42L229.30 83.43L229.55 83.43L229.80 83.40L230.05 83.34L230.30 83.26L230.55 83.16L230.80 83.08L231.05 83.08L231.30 83.16L231.55 83.29L231.80 83.44L232.05 83.56L232.30 83.66L232.55 83.74L232.80 83.79L233.05 83.76L233.30 83.71L233.55 83.65L233.80 83.57L234.05 83.47L234.30 83.33L234.55 83.16L234.80 82.97L235.05 82.76L235.30 82.60L235.55 82.55L235.80 82.62L236.05 82.77L236.30 82.92L236.55 83.05L236.80 83.15L237.05 83.21L237.30 83.24L237.55 83.25L237.80 83.29L238.05 83.31L238.30 83.31L238.55 83.27L238.80 83.17L239.05 83.02L239.30 82.82L239.55 82.60L239.80 82.43L240.05 82.40L240.30 82.51L240.55 82.72L240.80 82.96L241.05 83.15L241.30 83.28L241.55 83.33L241.80 83.31L242.05 83.21L242.30 83.04L242.55 82.83L242.80 82.59L243.05 82.38L243.30 82.29L243.55 82.38L243.80 82.60L244.05 82.85L244.30 83.08L244.55 83.26L244.80 83.38L245.05 83.46L245.30 83.52L245.55 83.55L245.80 83.56L246.05 83.57L246.30 83.58L246.55 83.58L246.80 83.58L247.05 83.58L247.30 83.59L247.55 83.61" stroke="#21b851" stroke-width="1.08" fill="none" stroke-linejoin="round" stroke-linecap="round"/>
<path d="M36.30 129.01L36.55 129.02L36.80 129.03L37.05 129.04L37.30 129.04L37.55 129.04L37.80 129.04L38.05 129.04L38.30 129.03L38.55 129.02L38.80 129.00L39.05 128.99L39.30 128.97L39.55 128.95L39.80 128.93L40.05 128.91L40.30 128.88L40.55 128.86L40.80 128.84L41.05 128.77L41.30 128.71L41.55 128.65L41.80 128.58L42.05 128.52L42.30 128.45L42.55 128.39L42.80 128.32L43.05 128.26L43.30 128.20L43.55 128.15L43.80 128.09L44.05 128.04L44.10 128.03L44.15 128.02L44.20 128.01L44.25 128.00L44.30 127.99L44.35 127.98L44.40 127.97L44.45 127.96L44.50 127.94L44.55 127.93L44.60 127.92L44.65 127.91L44.70 127.90L44.75 127.89L44.80 127.88L44.85 127.87L44.90 127.85L44.95 127.84L45.00 127.83L45.05 127.82L45.10 127.81L45.15 127.79L45.20 127.78L45.25 127.77L45.30 127.75L45.35 127.73L45.40 127.70L45.45 127.66L45.50 127.61L45.55 127.53L45.60 127.43L45.65 127.30L45.70 127.13L45.75 126.89L45.80 126.59L45.85 126.21L45.90 125.75L45.95 125.20L46.00 124.57L46.05 123.84L46.10 123.04L46.15 122.17L46.20 121.24L46.25 120.27L46.30 119.27L46.35 118.28L46.40 117.29L46.45 116.33L46.50 115.41L46.55 114.54L46.60 113.74L46.65 113.00L46.70 112.34L46.75 111.75L46.80 111.24L46.85 110.80L46.90 110.42L46.95 110.09L47.00 109.78L47.05 109.47L47.10 109.08L47.15 108.50L47.20 107.58L47.25 106.17L47.30 104.10L47.35 101.35L47.40 98.03L47.45 94.51L47.50 91.34L47.55 89.11L47.60 88.29L47.65 89.06L47.70 91.24L47.75 94.36L47.80 97.83L47.85 101.09L47.90 103.80L47.95 105.82L48.00 107.19L48.05 108.04L48.10 108.55L48.15 108.88L48.20 109.13L48.25 109.37L48.30 109.65L48.35 109.97L48.40 110.35L48.45 110.81L48.50 111.34L48.55 111.95L48.60 112.64L48.65 113.39L48.70 114.21L48.75 115.09L48.80 116.00L48.85 116.95L48.90 117.91L48.95 118.87L49.00 119.81L49.05 120.71L49.10 121.55L49.15 122.33L49.20 123.04L49.25 123.65L49.30 124.19L49.35 124.64L49.40 125.00L49.45 125.30L49.50 125.53L49.55 125.71L49.60 125.84L49.65 125.93L49.70 125.99L49.75 126.03L49.80 126.04L49.85 126.03L49.90 125.98L49.95 125.91L50.00 125.79L50.05 125.62L50.10 125.39L50.15 125.11L50.20 124.78L50.25 124.39L50.30 123.95L50.35 123.48L50.40 122.98L50.45 122.50L50.50 122.02L50.55 121.56L50.60 121.13L50.65 120.74L50.70 120.39L50.75 120.10L50.80 119.85L50.85 119.65L50.90 119.49L50.95 119.36L51.00 119.23L51.05 119.08L51.10 118.85L51.15 118.51L51.20 118.00L51.25 117.32L51.30 116.49L51.35 115.60L51.40 114.82L51.45 114.29L51.50 114.14L51.55 114.42L51.60 115.08L51.65 116.00L51.70 117.01L51.75 117.97L51.80 118.79L51.85 119.43L51.90 119.90L51.95 120.25L52.00 120.53L52.05 120.79L52.10 121.04L52.15 121.33L52.20 121.65L52.25 122.01L52.30 122.43L52.35 122.89L52.40 123.40L52.45 123.94L52.50 124.51L52.55 125.09L52.60 125.68L52.65 126.26L52.70 126.81L52.75 127.33L52.80 127.79L52.85 128.18L52.90 128.52L52.95 128.79L53.00 129.01L53.05 129.17L53.10 129.29L53.15 129.38L53.20 129.44L53.25 129.49L53.30 129.52L53.35 129.54L53.40 129.55L53.45 129.56L53.50 129.57L53.55 129.58L53.60 129.59L53.65 129.59L53.70 129.60L53.75 129.60L53.80 129.61L53.85 129.61L53.90 129.62L53.95 129.62L54.00 129.63L54.05 129.63L54.10 129.64L54.15 129.64L54.20 129.64L54.25 129.65L54.30 129.65L54.35 129.65L54.40 129.65L54.45 129.66L54.50 129.66L54.55 129.66L54.60 129.66L54.65 129.66L54.70 129.67L54.75 129.67L54.80 129.67L54.85 129.67L54.90 129.67L54.95 129.67L55.00 129.67L55.05 129.67L55.30 129.69L55.55 129.71L55.80 129.73L56.05 129.75L56.30 129.77L56.55 129.78L56.80 129.79L57.05 129.80L57.30 129.80L57.55 129.80L57.80 129.80L58.05 129.81L58.30 129.81L58.55 129.81L58.80 129.81L59.05 129.81L59.30 129.81L59.55 129.81L59.80 129.81L60.05 129.81L60.30 129.82L60.55 129.83L60.80 129.84L61.05 129.85L61.30 129.86L61.55 129.86L61.80 129.86L62.05 129.85L62.30 129.83L62.55 129.80L62.80 129.73L63.05 129.61L63.30 129.45L63.55 129.25L63.80 129.09L64.05 129.07L64.30 129.23L64.55 129.48L64.80 129.75L65.05 129.90L65.30 130.00L65.55 130.05L65.80 130.07L66.05 130.07L66.30 130.06L66.55 130.04L66.80 130.02L67.05 130.00L67.30 130.00L67.55 130.03L67.80 130.06L68.05 130.10L68.30 130.13L68.55 130.16L68.80 130.19L69.05 130.22L69.30 130.24L69.55 130.27L69.80 130.28L70.05 130.28L70.30 130.28L70.55 130.28L70.80 130.27L71.05 130.23L71.30 130.18L71.55 130.10L71.80 129.98L72.05 129.83L72.30 129.70L72.55 129.65L72.80 129.71L73.05 129.83L73.30 129.95L73.55 130.03L73.80 130.06L74.05 130.05L74.30 129.99L74.55 129.93L74.80 129.88L75.05 129.88L75.30 129.95L75.55 130.05L75.80 130.15L76.05 130.24L76.30 130.30L76.55 130.34L76.80 130.37L77.05 130.36L77.30 130.34L77.55 130.31L77.80 130.29L78.05 130.25L78.30 130.22L78.55 130.18L78.80 130.14L79.05 130.09L79.30 130.04L79.55 129.98L79.80 129.88L80.05 129.72L80.30 129.49L80.55 129.18L80.80 128.85L81.05 128.59L81.30 128.56L81.55 128.77L81.80 129.11L82.05 129.42L82.30 129.67L82.55 129.85L82.80 129.96L83.05 130.02L83.30 130.06L83.55 130.09L83.80 130.10L84.05 130.12L84.30 130.14L84.55 130.15L84.80 130.17L85.05 130.17L85.30 130.16L85.55 130.12L85.80 130.05L86.05 129.94L86.30 129.78L86.55 129.56L86.80 129.36L87.05 129.27L87.30 129.34L87.55 129.47L87.80 129.60L88.05 129.66L88.30 129.64L88.55 129.57L88.80 129.49L89.05 129.47L89.30 129.54L89.55 129.64L89.80 129.74L90.05 129.82L90.30 129.87L90.55 129.90L90.80 129.91L91.05 129.91L91.30 129.91L91.55 129.91L91.80 129.92L92.05 129.92L92.30 129.92L92.55 129.92L92.80 129.91L93.05 129.88L93.30 129.84L93.55 129.77L93.80 129.65L94.05 129.52L94.30 129.40L94.55 129.35L94.80 129.39L95.05 129.49L95.30 129.58L95.55 129.65L95.80 129.69L96.05 129.71L96.30 129.71L96.55 129.70L96.80 129.68L97.05 129.65L97.30 129.61L97.55 129.56L97.80 129.49L98.05 129.38L98.30 129.21L98.55 128.98L98.80 128.66L99.05 128.27L99.30 127.87L99.55 127.67L99.80 127.80L100.05 128.19L100.30 128.66L100.55 129.06L100.80 129.37L101.05 129.55L101.30 129.65L101.55 129.71L101.80 129.74L102.05 129.76L102.30 129.76L102.55 129.76L102.80 129.76L103.05 129.75L103.30 129.72L103.55 129.68L103.80 129.62L104.05 129.55L104.30 129.46L104.55 129.34L104.80 129.19L105.05 129.01L105.30 128.86L105.55 128.79L105.80 128.85L106.05 128.97L106.30 129.09L106.55 129.19L106.80 129.25L107.05 129.28L107.30 129.29L107.55 129.28L107.80 129.26L108.05 129.21L108.30 129.14L108.55 129.04L108.80 128.90L109.05 128.70L109.30 128.38L109.55 127.90L109.80 127.16L110.05 126.13L110.30 124.80L110.55 123.34L110.80 122.16L111.05 121.83L111.30 122.55L111.55 123.88L111.80 125.29L112.05 126.46L112.30 127.33L112.55 127.90L112.80 128.26L113.05 128.43L113.30 128.50L113.55 128.52L113.80 128.50L114.05 128.44L114.30 128.36L114.55 128.26L114.80 128.13L115.05 127.99L115.30 127.82L115.55 127.62L115.80 127.40L116.05 127.16L116.30 126.91L116.55 126.66L116.80 126.40L117.05 126.14L117.30 125.88L117.55 125.62L117.80 125.41L118.05 125.20L118.30 124.97L118.55 124.72L118.80 124.51L119.05 124.44L119.30 124.64L119.55 125.11L119.80 125.73L120.05 126.33L120.30 126.78L120.55 127.15L120.80 127.43L121.05 127.64L121.30 127.79L121.55 127.90L121.80 127.97L122.05 128.02L122.30 128.05L122.55 128.10L122.80 128.15L123.05 128.16L123.30 128.14L123.55 128.06L123.80 127.92L124.05 127.76L124.30 127.61L124.55 127.59L124.80 127.71L125.05 127.91L125.30 128.11L125.55 128.25L125.80 128.32L126.05 128.31L126.30 128.20L126.55 127.95L126.80 127.54L127.05 126.93L127.30 126.10L127.55 125.15L127.80 124.36L128.05 124.13L128.30 124.57L128.55 125.42L128.80 126.31L129.05 127.05L129.30 127.58L129.55 127.93L129.80 128.16L130.05 128.29L130.30 128.32L130.55 128.27L130.80 128.14L131.05 127.98L131.30 127.84L131.55 127.83L131.80 128.01L132.05 128.26L132.30 128.48L132.55 128.66L132.80 128.78L133.05 128.85L133.30 128.89L133.55 128.90L133.80 128.90L134.05 128.89L134.30 128.87L134.55 128.88L134.80 128.90L135.05 128.90L135.30 128.86L135.55 128.77L135.80 128.58L136.05 128.27L136.30 127.85L136.55 127.34L136.80 126.93L137.05 126.81L137.30 127.12L137.55 127.67L137.80 128.22L138.05 128.67L138.30 128.99L138.55 129.20L138.80 129.34L139.05 129.42L139.30 129.46L139.55 129.47L139.80 129.45L140.05 129.41L140.30 129.32L140.55 129.18L140.80 128.99L141.05 128.76L141.30 128.56L141.55 128.51L141.80 128.66L142.05 128.90L142.30 129.15L142.55 129.36L142.80 129.50L143.05 129.60L143.30 129.66L143.55 129.69L143.80 129.71L144.05 129.68L144.30 129.58L144.55 129.41L144.80 129.15L145.05 128.77L145.30 128.27L145.55 127.69L145.80 127.20L146.05 127.04L146.30 127.31L146.55 127.85L146.80 128.41L147.05 128.87L147.30 129.20L147.55 129.42L147.80 129.56L148.05 129.65L148.30 129.71L148.55 129.76L148.80 129.78L149.05 129.76L149.30 129.72L149.55 129.64L149.80 129.50L150.05 129.29L150.30 129.01L150.55 128.69L150.80 128.42L151.05 128.33L151.30 128.50L151.55 128.80L151.80 129.10L152.05 129.35L152.30 129.52L152.55 129.62L152.80 129.67L153.05 129.69L153.30 129.69L153.55 129.66L153.80 129.59L154.05 129.47L154.30 129.26L154.55 128.96L154.80 128.55L155.05 128.08L155.30 127.68L155.55 127.56L155.80 127.80L156.05 128.24L156.30 128.71L156.55 129.09L156.80 129.36L157.05 129.54L157.30 129.65L157.55 129.72L157.80 129.75L158.05 129.75L158.30 129.72L158.55 129.63L158.80 129.46L159.05 129.19L159.30 128.82L159.55 128.39L159.80 128.02L160.05 127.92L160.30 128.15L160.55 128.57L160.80 128.98L161.05 129.28L161.30 129.46L161.55 129.55L161.80 129.55L162.05 129.47L162.30 129.29L162.55 129.00L162.80 128.58L163.05 128.06L163.30 127.55L163.55 127.29L163.80 127.44L164.05 127.90L164.30 128.43L164.55 128.90L164.80 129.25L165.05 129.48L165.30 129.63L165.55 129.72L165.80 129.73L166.05 129.72L166.30 129.67L166.55 129.61L166.80 129.51L167.05 129.37L167.30 129.18L167.55 128.97L167.80 128.78L168.05 128.71L168.30 128.83L168.55 129.02L168.80 129.21L169.05 129.35L169.30 129.45L169.55 129.51L169.80 129.52L170.05 129.50L170.30 129.42L170.55 129.24L170.80 128.92L171.05 128.44L171.30 127.75L171.55 126.84L171.80 125.77L172.05 124.73L172.30 124.07L172.55 124.14L172.80 124.89L173.05 125.97L173.30 127.01L173.55 127.87L173.80 128.50L174.05 128.90L174.30 129.12L174.55 129.17L174.80 129.08L175.05 128.88L175.30 128.56L175.55 128.18L175.80 127.88L176.05 127.81L176.30 128.03L176.55 128.42L176.80 128.84L177.05 129.20L177.30 129.48L177.55 129.67L177.80 129.78L178.05 129.83L178.30 129.83L178.55 129.80L178.80 129.72L179.05 129.61L179.30 129.45L179.55 129.26L179.80 129.10L180.05 129.04L180.30 129.15L180.55 129.34L180.80 129.52L181.05 129.67L181.30 129.78L181.55 129.86L181.80 129.91L182.05 129.94L182.30 129.97L182.55 129.99L182.80 130.02L183.05 130.04L183.30 130.07L183.55 130.08L183.80 130.10L184.05 130.11L184.30 130.11L184.55 130.09L184.80 130.06L185.05 129.94L185.30 129.79L185.55 129.63L185.80 129.48L186.05 129.42L186.30 129.45L186.55 129.54L186.80 129.63L187.05 129.70L187.30 129.76L187.55 129.83L187.80 129.88L188.05 129.92L188.30 129.96L188.55 129.98L188.80 130.01L189.05 130.02L189.30 130.03L189.55 130.02L189.80 129.95L190.05 129.84L190.30 129.69L190.55 129.53L190.80 129.38L191.05 129.33L191.30 129.38L191.55 129.50L191.80 129.61L192.05 129.70L192.30 129.77L192.55 129.80L192.80 129.80L193.05 129.79L193.30 129.76L193.55 129.70L193.80 129.61L194.05 129.48L194.30 129.28L194.55 128.99L194.80 128.59L195.05 128.08L195.30 127.49L195.55 126.89L195.80 126.44L196.05 126.32L196.30 126.58L196.55 127.10L196.80 127.70L197.05 128.30L197.30 128.80L197.55 129.17L197.80 129.44L198.05 129.60L198.30 129.67L198.55 129.68L198.80 129.63L199.05 129.56L199.30 129.48L199.55 129.44L199.80 129.50L200.05 129.62L200.30 129.76L200.55 129.87L200.80 129.95L201.05 130.00L201.30 130.02L201.55 130.02L201.80 130.05L202.05 130.08L202.30 130.10L202.55 130.12L202.80 130.13L203.05 130.15L203.30 130.16L203.55 130.17L203.80 130.17L204.05 130.17L204.30 130.16L204.55 130.14L204.80 130.10L205.05 130.03L205.30 129.93L205.55 129.81L205.80 129.71L206.05 129.69L206.30 129.77L206.55 129.92L206.80 130.08L207.05 130.21L207.30 130.31L207.55 130.39L207.80 130.44L208.05 130.49L208.30 130.52L208.55 130.56L208.80 130.58L209.05 130.53L209.30 130.46L209.55 130.38L209.80 130.28L210.05 130.14L210.30 129.97L210.55 129.78L210.80 129.61L211.05 129.53L211.30 129.59L211.55 129.75L211.80 129.91L212.05 130.05L212.30 130.15L212.55 130.22L212.80 130.27L213.05 130.31L213.30 130.33L213.55 130.36L213.80 130.36L214.05 130.36L214.30 130.36L214.55 130.35L214.80 130.33L215.05 130.31L215.30 130.27L215.55 130.22L215.80 130.14L216.05 130.02L216.30 129.85L216.55 129.59L216.80 129.24L217.05 128.78L217.30 128.24L217.55 127.69L217.80 127.29L218.05 127.19L218.30 127.45L218.55 127.95L218.80 128.51L219.05 129.02L219.30 129.44L219.55 129.74L219.80 129.93L220.05 130.03L220.30 130.03L220.55 129.96L220.80 129.81L221.05 129.60L221.30 129.33L221.55 129.06L221.80 128.86L222.05 128.82L222.30 128.97L222.55 129.25L222.80 129.56L223.05 129.85L223.30 130.08L223.55 130.22L223.80 130.32L224.05 130.36L224.30 130.38L224.55 130.36L224.80 130.32L225.05 130.26L225.30 130.16L225.55 130.02L225.80 129.89L226.05 129.75L226.30 129.64L226.55 129.63L226.80 129.72L227.05 129.87L227.30 130.04L227.55 130.18L227.80 130.30L228.05 130.38L228.30 130.42L228.55 130.45L228.80 130.45L229.05 130.45L229.30 130.42L229.55 130.38L229.80 130.31L230.05 130.22L230.30 130.10L230.55 129.99L230.80 129.92L231.05 129.93L231.30 130.02L231.55 130.17L231.80 130.33L232.05 130.48L232.30 130.59L232.55 130.68L232.80 130.74L233.05 130.76L233.30 130.77L233.55 130.76L233.80 130.73L234.05 130.68L234.30 130.60L234.55 130.48L234.80 130.33L235.05 130.16L235.30 130.02L235.55 129.93L235.80 129.96L236.05 130.07L236.30 130.19L236.55 130.28L236.80 130.34L237.05 130.36L237.30 130.35L237.55 130.32L237.80 130.31L238.05 130.28L238.30 130.22L238.55 130.12L238.80 129.97L239.05 129.76L239.30 129.49L239.55 129.21L239.80 128.99L240.05 128.92L240.30 129.06L240.55 129.31L240.80 129.58L241.05 129.81L241.30 129.97L241.55 130.06L241.80 130.06L242.05 129.99L242.30 129.85L242.55 129.64L242.80 129.40L243.05 129.20L243.30 129.12L243.55 129.22L243.80 129.45L244.05 129.72L244.30 129.96L244.55 130.15L244.80 130.28L245.05 130.39L245.30 130.47L245.55 130.53L245.80 130.57L246.05 130.60L246.30 130.63L246.55 130.66L246.80 130.68L247.05 130.71L247.30 130.72L247.55 130.74" stroke="#3535ff" stroke-width="1.08" fill="none" stroke-linejoin="round" stroke-linecap="round"/>
<path d="M36.30 183.53L36.55 183.53L36.80 183.52L37.05 183.50L37.30 183.48L37.55 183.46L37.80 183.44L38.05 183.41L38.30 183.38L38.55 183.34L38.80 183.29L39.05 183.24L39.30 183.19L39.55 183.14L39.80 183.09L40.05 183.04L40.30 182.98L40.55 182.92L40.80 182.87L41.05 182.84L41.30 182.81L41.55 182.79L41.80 182.76L42.05 182.73L42.30 182.70L42.55 182.68L42.80 182.65L43.05 182.62L43.30 182.59L43.55 182.56L43.80 182.53L44.05 182.51L44.10 182.50L44.15 182.50L44.20 182.49L44.25 182.48L44.30 182.48L44.35 182.47L44.40 182.47L44.45 182.46L44.50 182.45L44.55 182.45L44.60 182.44L44.65 182.43L44.70 182.43L44.75 182.42L44.80 182.41L44.85 182.41L44.90 182.40L44.95 182.39L45.00 182.38L45.05 182.37L45.10 182.36L45.15 182.34L45.20 182.32L45.25 182.28L45.30 182.23L45.35 182.14L45.40 182.02L45.45 181.85L45.50 181.61L45.55 181.30L45.60 180.89L45.65 180.38L45.70 179.75L45.75 179.02L45.80 178.17L45.85 177.21L45.90 176.16L45.95 175.03L46.00 173.83L46.05 172.60L46.10 171.36L46.15 170.11L46.20 168.90L46.25 167.72L46.30 166.61L46.35 165.57L46.40 164.60L46.45 163.73L46.50 162.94L46.55 162.24L46.60 161.62L46.65 161.09L46.70 160.63L46.75 160.24L46.80 159.92L46.85 159.65L46.90 159.41L46.95 159.21L47.00 159.01L47.05 158.75L47.10 158.37L47.15 157.73L47.20 156.65L47.25 154.91L47.30 152.35L47.35 148.92L47.40 144.77L47.45 140.37L47.50 136.39L47.55 133.59L47.60 132.55L47.65 133.50L47.70 136.22L47.75 140.11L47.80 144.42L47.85 148.48L47.90 151.83L47.95 154.31L48.00 155.95L48.05 156.96L48.10 157.53L48.15 157.83L48.20 158.01L48.25 158.14L48.30 158.27L48.35 158.43L48.40 158.64L48.45 158.90L48.50 159.22L48.55 159.62L48.60 160.09L48.65 160.65L48.70 161.29L48.75 162.03L48.80 162.86L48.85 163.77L48.90 164.77L48.95 165.85L49.00 166.98L49.05 168.17L49.10 169.38L49.15 170.60L49.20 171.81L49.25 172.98L49.30 174.09L49.35 175.13L49.40 176.08L49.45 176.92L49.50 177.65L49.55 178.26L49.60 178.76L49.65 179.13L49.70 179.40L49.75 179.55L49.80 179.59L49.85 179.52L49.90 179.35L49.95 179.08L50.00 178.72L50.05 178.27L50.10 177.76L50.15 177.20L50.20 176.60L50.25 175.99L50.30 175.38L50.35 174.79L50.40 174.23L50.45 173.71L50.50 173.25L50.55 172.84L50.60 172.50L50.65 172.22L50.70 171.99L50.75 171.82L50.80 171.69L50.85 171.60L50.90 171.54L50.95 171.49L51.00 171.43L51.05 171.30L51.10 171.07L51.15 170.67L51.20 170.05L51.25 169.20L51.30 168.15L51.35 167.04L51.40 166.04L51.45 165.36L51.50 165.16L51.55 165.49L51.60 166.31L51.65 167.44L51.70 168.68L51.75 169.86L51.80 170.84L51.85 171.59L51.90 172.12L51.95 172.48L52.00 172.73L52.05 172.92L52.10 173.09L52.15 173.27L52.20 173.48L52.25 173.72L52.30 174.01L52.35 174.35L52.40 174.74L52.45 175.19L52.50 175.70L52.55 176.27L52.60 176.89L52.65 177.54L52.70 178.24L52.75 178.94L52.80 179.65L52.85 180.35L52.90 181.01L52.95 181.62L53.00 182.16L53.05 182.64L53.10 183.03L53.15 183.35L53.20 183.60L53.25 183.79L53.30 183.93L53.35 184.03L53.40 184.10L53.45 184.15L53.50 184.19L53.55 184.22L53.60 184.24L53.65 184.27L53.70 184.29L53.75 184.31L53.80 184.33L53.85 184.34L53.90 184.36L53.95 184.38L54.00 184.40L54.05 184.42L54.10 184.43L54.15 184.45L54.20 184.47L54.25 184.48L54.30 184.50L54.35 184.52L54.40 184.53L54.45 184.55L54.50 184.56L54.55 184.58L54.60 184.59L54.65 184.61L54.70 184.62L54.75 184.64L54.80 184.65L54.85 184.67L54.90 184.68L54.95 184.69L55.00 184.71L55.05 184.72L55.30 184.76L55.55 184.77L55.80 184.76L56.05 184.76L56.30 184.75L56.55 184.74L56.80 184.73L57.05 184.71L57.30 184.69L57.55 184.66L57.80 184.67L58.05 184.69L58.30 184.70L58.55 184.71L58.80 184.73L59.05 184.74L59.30 184.75L59.55 184.77L59.80 184.78L60.05 184.79L60.30 184.82L60.55 184.84L60.80 184.86L61.05 184.88L61.30 184.90L61.55 184.91L61.80 184.92L62.05 184.92L62.30 184.90L62.55 184.85L62.80 184.74L63.05 184.58L63.30 184.36L63.55 184.10L63.80 183.89L64.05 183.83L64.30 183.98L64.55 184.24L64.80 184.51L65.05 184.71L65.30 184.84L65.55 184.93L65.80 184.97L66.05 185.00L66.30 185.01L66.55 185.01L66.80 185.01L67.05 185.01L67.30 185.01L67.55 185.00L67.80 184.99L68.05 184.98L68.30 184.97L68.55 184.95L68.80 184.94L69.05 184.93L69.30 184.91L69.55 184.90L69.80 184.90L70.05 184.91L70.30 184.92L70.55 184.92L70.80 184.91L71.05 184.88L71.30 184.82L71.55 184.73L71.80 184.60L72.05 184.45L72.30 184.31L72.55 184.26L72.80 184.35L73.05 184.50L73.30 184.65L73.55 184.75L73.80 184.80L74.05 184.80L74.30 184.75L74.55 184.68L74.80 184.62L75.05 184.61L75.30 184.68L75.55 184.79L75.80 184.89L76.05 184.98L76.30 185.04L76.55 185.09L76.80 185.11L77.05 185.16L77.30 185.20L77.55 185.23L77.80 185.26L78.05 185.29L78.30 185.32L78.55 185.34L78.80 185.35L79.05 185.36L79.30 185.32L79.55 185.22L79.80 185.07L80.05 184.85L80.30 184.55L80.55 184.17L80.80 183.75L81.05 183.42L81.30 183.35L81.55 183.56L81.80 183.96L82.05 184.35L82.30 184.66L82.55 184.89L82.80 185.04L83.05 185.15L83.30 185.22L83.55 185.28L83.80 185.33L84.05 185.36L84.30 185.35L84.55 185.34L84.80 185.32L85.05 185.28L85.30 185.24L85.55 185.16L85.80 185.05L86.05 184.89L86.30 184.67L86.55 184.39L86.80 184.13L87.05 184.00L87.30 184.04L87.55 184.16L87.80 184.27L88.05 184.30L88.30 184.25L88.55 184.14L88.80 184.02L89.05 184.02L89.30 184.11L89.55 184.26L89.80 184.40L90.05 184.51L90.30 184.60L90.55 184.65L90.80 184.69L91.05 184.71L91.30 184.72L91.55 184.71L91.80 184.71L92.05 184.70L92.30 184.69L92.55 184.67L92.80 184.64L93.05 184.60L93.30 184.53L93.55 184.44L93.80 184.29L94.05 184.12L94.30 183.97L94.55 183.89L94.80 183.92L95.05 184.00L95.30 184.09L95.55 184.15L95.80 184.18L96.05 184.19L96.30 184.22L96.55 184.24L96.80 184.25L97.05 184.25L97.30 184.25L97.55 184.22L97.80 184.18L98.05 184.08L98.30 183.92L98.55 183.67L98.80 183.30L99.05 182.85L99.30 182.40L99.55 182.16L99.80 182.31L100.05 182.75L100.30 183.27L100.55 183.73L100.80 184.08L101.05 184.24L101.30 184.33L101.55 184.36L101.80 184.36L102.05 184.34L102.30 184.31L102.55 184.27L102.80 184.23L103.05 184.18L103.30 184.15L103.55 184.17L103.80 184.17L104.05 184.15L104.30 184.11L104.55 184.04L104.80 183.93L105.05 183.80L105.30 183.69L105.55 183.67L105.80 183.72L106.05 183.81L106.30 183.91L106.55 183.98L106.80 184.01L107.05 184.00L107.30 183.97L107.55 183.92L107.80 183.86L108.05 183.79L108.30 183.74L108.55 183.67L108.80 183.56L109.05 183.37L109.30 183.06L109.55 182.55L109.80 181.75L110.05 180.62L110.30 179.15L110.55 177.53L110.80 176.20L111.05 175.83L111.30 176.67L111.55 178.22L111.80 179.84L112.05 181.21L112.30 182.22L112.55 182.92L112.80 183.36L113.05 183.58L113.30 183.70L113.55 183.76L113.80 183.78L114.05 183.78L114.30 183.76L114.55 183.72L114.80 183.68L115.05 183.62L115.30 183.56L115.55 183.50L115.80 183.43L116.05 183.35L116.30 183.26L116.55 183.15L116.80 183.03L117.05 182.89L117.30 182.73L117.55 182.53L117.80 182.29L118.05 182.00L118.30 181.65L118.55 181.25L118.80 180.87L119.05 180.62L119.30 180.67L119.55 181.01L119.80 181.52L120.05 182.03L120.30 182.49L120.55 182.85L120.80 183.12L121.05 183.32L121.30 183.46L121.55 183.56L121.80 183.64L122.05 183.70L122.30 183.75L122.55 183.74L122.80 183.69L123.05 183.61L123.30 183.48L123.55 183.31L123.80 183.07L124.05 182.80L124.30 182.57L124.55 182.47L124.80 182.54L125.05 182.73L125.30 182.92L125.55 183.05L125.80 183.10L126.05 183.05L126.30 182.90L126.55 182.59L126.80 182.10L127.05 181.37L127.30 180.43L127.55 179.41L127.80 178.57L128.05 178.36L128.30 178.93L128.55 179.95L128.80 181.02L129.05 181.92L129.30 182.59L129.55 183.04L129.80 183.32L130.05 183.46L130.30 183.49L130.55 183.43L130.80 183.29L131.05 183.10L131.30 182.94L131.55 182.93L131.80 183.13L132.05 183.42L132.30 183.67L132.55 183.86L132.80 184.00L133.05 184.08L133.30 184.12L133.55 184.13L133.80 184.12L134.05 184.11L134.30 184.08L134.55 184.07L134.80 184.04L135.05 184.00L135.30 183.91L135.55 183.76L135.80 183.50L136.05 183.10L136.30 182.57L136.55 181.95L136.80 181.43L137.05 181.31L137.30 181.67L137.55 182.29L137.80 182.93L138.05 183.44L138.30 183.81L138.55 184.06L138.80 184.22L139.05 184.32L139.30 184.36L139.55 184.35L139.80 184.31L140.05 184.24L140.30 184.12L140.55 183.93L140.80 183.69L141.05 183.41L141.30 183.17L141.55 183.08L141.80 183.25L142.05 183.54L142.30 183.83L142.55 184.07L142.80 184.24L143.05 184.36L143.30 184.44L143.55 184.48L143.80 184.50L144.05 184.48L144.30 184.37L144.55 184.19L144.80 183.91L145.05 183.49L145.30 182.93L145.55 182.29L145.80 181.74L146.05 181.57L146.30 181.89L146.55 182.50L146.80 183.14L147.05 183.66L147.30 184.04L147.55 184.29L147.80 184.45L148.05 184.56L148.30 184.63L148.55 184.67L148.80 184.70L149.05 184.71L149.30 184.68L149.55 184.62L149.80 184.49L150.05 184.28L150.30 183.99L150.55 183.65L150.80 183.36L151.05 183.29L151.30 183.48L151.55 183.77L151.80 184.06L152.05 184.29L152.30 184.43L152.55 184.49L152.80 184.50L153.05 184.47L153.30 184.41L153.55 184.33L153.80 184.27L154.05 184.17L154.30 183.97L154.55 183.66L154.80 183.24L155.05 182.74L155.30 182.32L155.55 182.22L155.80 182.53L156.05 183.05L156.30 183.57L156.55 183.98L156.80 184.26L157.05 184.44L157.30 184.55L157.55 184.60L157.80 184.61L158.05 184.59L158.30 184.53L158.55 184.40L158.80 184.17L159.05 183.82L159.30 183.37L159.55 182.85L159.80 182.40L160.05 182.25L160.30 182.48L160.55 182.91L160.80 183.35L161.05 183.72L161.30 183.97L161.55 184.11L161.80 184.15L162.05 184.09L162.30 183.92L162.55 183.63L162.80 183.19L163.05 182.63L163.30 182.09L163.55 181.83L163.80 182.02L164.05 182.57L164.30 183.21L164.55 183.77L164.80 184.20L165.05 184.49L165.30 184.69L165.55 184.82L165.80 184.87L166.05 184.89L166.30 184.88L166.55 184.85L166.80 184.77L167.05 184.65L167.30 184.48L167.55 184.28L167.80 184.10L168.05 184.03L168.30 184.08L168.55 184.20L168.80 184.31L169.05 184.39L169.30 184.40L169.55 184.37L169.80 184.29L170.05 184.17L170.30 183.98L170.55 183.76L170.80 183.44L171.05 182.93L171.30 182.18L171.55 181.18L171.80 180.00L172.05 178.84L172.30 178.13L172.55 178.24L172.80 179.13L173.05 180.35L173.30 181.53L173.55 182.50L173.80 183.21L174.05 183.65L174.30 183.89L174.55 183.94L174.80 183.83L175.05 183.59L175.30 183.21L175.55 182.74L175.80 182.37L176.05 182.26L176.30 182.47L176.55 182.89L176.80 183.33L177.05 183.71L177.30 184.00L177.55 184.19L177.80 184.34L178.05 184.45L178.30 184.52L178.55 184.53L178.80 184.51L179.05 184.43L179.30 184.30L179.55 184.14L179.80 184.01L180.05 183.99L180.30 184.08L180.55 184.24L180.80 184.41L181.05 184.54L181.30 184.63L181.55 184.67L181.80 184.69L182.05 184.68L182.30 184.67L182.55 184.68L182.80 184.71L183.05 184.74L183.30 184.76L183.55 184.78L183.80 184.79L184.05 184.80L184.30 184.80L184.55 184.78L184.80 184.74L185.05 184.66L185.30 184.56L185.55 184.43L185.80 184.32L186.05 184.30L186.30 184.40L186.55 184.56L186.80 184.72L187.05 184.86L187.30 184.95L187.55 185.00L187.80 185.02L188.05 185.03L188.30 185.03L188.55 185.03L188.80 185.02L189.05 185.00L189.30 184.97L189.55 184.92L189.80 184.86L190.05 184.76L190.30 184.62L190.55 184.46L190.80 184.33L191.05 184.29L191.30 184.39L191.55 184.55L191.80 184.70L192.05 184.82L192.30 184.85L192.55 184.85L192.80 184.82L193.05 184.76L193.30 184.69L193.55 184.59L193.80 184.45L194.05 184.26L194.30 183.99L194.55 183.65L194.80 183.21L195.05 182.65L195.30 181.99L195.55 181.33L195.80 180.84L196.05 180.71L196.30 181.03L196.55 181.64L196.80 182.34L197.05 183.01L197.30 183.55L197.55 183.96L197.80 184.24L198.05 184.41L198.30 184.47L198.55 184.46L198.80 184.39L199.05 184.29L199.30 184.20L199.55 184.17L199.80 184.27L200.05 184.43L200.30 184.61L200.55 184.76L200.80 184.88L201.05 184.95L201.30 185.00L201.55 185.03L201.80 185.05L202.05 185.06L202.30 185.07L202.55 185.08L202.80 185.08L203.05 185.07L203.30 185.07L203.55 185.06L203.80 185.05L204.05 185.03L204.30 185.01L204.55 184.97L204.80 184.91L205.05 184.81L205.30 184.68L205.55 184.53L205.80 184.41L206.05 184.37L206.30 184.45L206.55 184.61L206.80 184.79L207.05 184.94L207.30 185.06L207.55 185.14L207.80 185.21L208.05 185.26L208.30 185.30L208.55 185.34L208.80 185.37L209.05 185.33L209.30 185.28L209.55 185.22L209.80 185.13L210.05 185.00L210.30 184.83L210.55 184.64L210.80 184.48L211.05 184.41L211.30 184.47L211.55 184.60L211.80 184.72L212.05 184.81L212.30 184.87L212.55 184.89L212.80 184.89L213.05 184.87L213.30 184.85L213.55 184.81L213.80 184.84L214.05 184.87L214.30 184.91L214.55 184.93L214.80 184.95L215.05 184.96L215.30 184.96L215.55 184.94L215.80 184.89L216.05 184.77L216.30 184.52L216.55 184.18L216.80 183.72L217.05 183.14L217.30 182.48L217.55 181.81L217.80 181.29L218.05 181.13L218.30 181.38L218.55 181.93L218.80 182.58L219.05 183.17L219.30 183.65L219.55 184.01L219.80 184.23L220.05 184.35L220.30 184.37L220.55 184.29L220.80 184.13L221.05 183.87L221.30 183.55L221.55 183.23L221.80 182.98L222.05 182.91L222.30 183.07L222.55 183.37L222.80 183.71L223.05 184.02L223.30 184.29L223.55 184.50L223.80 184.66L224.05 184.77L224.30 184.83L224.55 184.87L224.80 184.87L225.05 184.85L225.30 184.78L225.55 184.68L225.80 184.52L226.05 184.35L226.30 184.21L226.55 184.18L226.80 184.26L227.05 184.42L227.30 184.59L227.55 184.74L227.80 184.85L228.05 184.93L228.30 184.97L228.55 184.98L228.80 184.98L229.05 184.96L229.30 184.92L229.55 184.87L229.80 184.78L230.05 184.66L230.30 184.51L230.55 184.38L230.80 184.30L231.05 184.30L231.30 184.40L231.55 184.57L231.80 184.75L232.05 184.91L232.30 185.03L232.55 185.13L232.80 185.20L233.05 185.18L233.30 185.15L233.55 185.11L233.80 185.04L234.05 184.94L234.30 184.81L234.55 184.64L234.80 184.43L235.05 184.21L235.30 184.05L235.55 184.05L235.80 184.18L236.05 184.39L236.30 184.62L236.55 184.82L236.80 184.98L237.05 185.10L237.30 185.18L237.55 185.24L237.80 185.20L238.05 185.12L238.30 185.01L238.55 184.85L238.80 184.63L239.05 184.34L239.30 183.99L239.55 183.63L239.80 183.32L240.05 183.22L240.30 183.41L240.55 183.74L240.80 184.09L241.05 184.39L241.30 184.62L241.55 184.75L241.80 184.80L242.05 184.76L242.30 184.64L242.55 184.42L242.80 184.15L243.05 183.91L243.30 183.82L243.55 183.94L243.80 184.20L244.05 184.51L244.30 184.78L244.55 185.00L244.80 185.16L245.05 185.25L245.30 185.30L245.55 185.33L245.80 185.34L246.05 185.34L246.30 185.34L246.55 185.34L246.80 185.33L247.05 185.32L247.30 185.32L247.55 185.34" stroke="#ff3333" stroke-width="1.08" fill="none" stroke-linejoin="round" stroke-linecap="round"/>
<path d="M36.30 239.36L36.55 239.37L36.80 239.38L37.05 239.38L37.30 239.38L37.55 239.37L37.80 239.36L38.05 239.35L38.30 239.33L38.55 239.30L38.80 239.27L39.05 239.23L39.30 239.19L39.55 239.14L39.80 239.10L40.05 239.05L40.30 239.01L40.55 238.96L40.80 238.91L41.05 238.83L41.30 238.75L41.55 238.68L41.80 238.60L42.05 238.52L42.30 238.44L42.55 238.36L42.80 238.28L43.05 238.20L43.30 238.13L43.55 238.09L43.80 238.04L44.05 237.99L44.10 237.98L44.15 237.97L44.20 237.96L44.25 237.95L44.30 237.94L44.35 237.93L44.40 237.92L44.45 237.91L44.50 237.90L44.55 237.89L44.60 237.88L44.65 237.87L44.70 237.86L44.75 237.85L44.80 237.84L44.85 237.83L44.90 237.82L44.95 237.81L45.00 237.79L45.05 237.76L45.10 237.72L45.15 237.66L45.20 237.56L45.25 237.43L45.30 237.23L45.35 236.96L45.40 236.60L45.45 236.13L45.50 235.55L45.55 234.83L45.60 233.98L45.65 233.00L45.70 231.90L45.75 230.69L45.80 229.40L45.85 228.04L45.90 226.64L45.95 225.23L46.00 223.83L46.05 222.47L46.10 221.15L46.15 219.91L46.20 218.75L46.25 217.68L46.30 216.71L46.35 215.84L46.40 215.06L46.45 214.38L46.50 213.79L46.55 213.28L46.60 212.85L46.65 212.49L46.70 212.18L46.75 211.93L46.80 211.72L46.85 211.55L46.90 211.41L46.95 211.27L47.00 211.11L47.05 210.89L47.10 210.50L47.15 209.80L47.20 208.59L47.25 206.64L47.30 203.73L47.35 199.81L47.40 195.09L47.45 190.07L47.50 185.53L47.55 182.34L47.60 181.16L47.65 182.25L47.70 185.37L47.75 189.82L47.80 194.76L47.85 199.40L47.90 203.24L47.95 206.07L48.00 207.95L48.05 209.07L48.10 209.69L48.15 210.00L48.20 210.14L48.25 210.22L48.30 210.28L48.35 210.35L48.40 210.45L48.45 210.59L48.50 210.77L48.55 211.01L48.60 211.31L48.65 211.68L48.70 212.13L48.75 212.67L48.80 213.30L48.85 214.03L48.90 214.85L48.95 215.78L49.00 216.82L49.05 217.94L49.10 219.16L49.15 220.44L49.20 221.79L49.25 223.17L49.30 224.57L49.35 225.95L49.40 227.29L49.45 228.56L49.50 229.74L49.55 230.78L49.60 231.67L49.65 232.38L49.70 232.90L49.75 233.22L49.80 233.33L49.85 233.26L49.90 233.01L49.95 232.62L50.00 232.11L50.05 231.51L50.10 230.85L50.15 230.18L50.20 229.50L50.25 228.86L50.30 228.25L50.35 227.71L50.40 227.22L50.45 226.82L50.50 226.49L50.55 226.22L50.60 226.01L50.65 225.86L50.70 225.76L50.75 225.71L50.80 225.68L50.85 225.69L50.90 225.71L50.95 225.72L51.00 225.70L51.05 225.61L51.10 225.38L51.15 224.96L51.20 224.28L51.25 223.33L51.30 222.16L51.35 220.91L51.40 219.79L51.45 219.03L51.50 218.82L51.55 219.22L51.60 220.17L51.65 221.48L51.70 222.92L51.75 224.28L51.80 225.42L51.85 226.28L51.90 226.89L51.95 227.30L52.00 227.58L52.05 227.78L52.10 227.94L52.15 228.10L52.20 228.27L52.25 228.46L52.30 228.69L52.35 228.96L52.40 229.27L52.45 229.64L52.50 230.07L52.55 230.56L52.60 231.11L52.65 231.73L52.70 232.41L52.75 233.15L52.80 233.92L52.85 234.72L52.90 235.54L52.95 236.34L53.00 237.12L53.05 237.85L53.10 238.52L53.15 239.11L53.20 239.61L53.25 240.02L53.30 240.35L53.35 240.59L53.40 240.78L53.45 240.91L53.50 241.00L53.55 241.06L53.60 241.11L53.65 241.14L53.70 241.17L53.75 241.19L53.80 241.22L53.85 241.24L53.90 241.26L53.95 241.28L54.00 241.30L54.05 241.32L54.10 241.34L54.15 241.36L54.20 241.37L54.25 241.39L54.30 241.41L54.35 241.43L54.40 241.44L54.45 241.46L54.50 241.48L54.55 241.49L54.60 241.51L54.65 241.52L54.70 241.54L54.75 241.55L54.80 241.57L54.85 241.58L54.90 241.60L54.95 241.61L55.00 241.62L55.05 241.64L55.30 241.70L55.55 241.75L55.80 241.80L56.05 241.84L56.30 241.88L56.55 241.91L56.80 241.93L57.05 241.95L57.30 241.96L57.55 241.96L57.80 241.96L58.05 241.95L58.30 241.94L58.55 241.93L58.80 241.91L59.05 241.90L59.30 241.89L59.55 241.88L59.80 241.87L60.05 241.86L60.30 241.91L60.55 241.95L60.80 241.99L61.05 242.03L61.30 242.07L61.55 242.10L61.80 242.12L62.05 242.14L62.30 242.14L62.55 242.06L62.80 241.90L63.05 241.68L63.30 241.38L63.55 241.05L63.80 240.76L64.05 240.67L64.30 240.83L64.55 241.12L64.80 241.42L65.05 241.69L65.30 241.89L65.55 242.03L65.80 242.12L66.05 242.18L66.30 242.23L66.55 242.26L66.80 242.30L67.05 242.33L67.30 242.35L67.55 242.37L67.80 242.39L68.05 242.41L68.30 242.43L68.55 242.44L68.80 242.46L69.05 242.47L69.30 242.48L69.55 242.49L69.80 242.49L70.05 242.48L70.30 242.46L70.55 242.44L70.80 242.40L71.05 242.35L71.30 242.25L71.55 242.12L71.80 241.94L72.05 241.74L72.30 241.58L72.55 241.54L72.80 241.66L73.05 241.85L73.30 242.05L73.55 242.19L73.80 242.26L74.05 242.27L74.30 242.23L74.55 242.13L74.80 242.02L75.05 241.98L75.30 242.02L75.55 242.12L75.80 242.22L76.05 242.29L76.30 242.34L76.55 242.36L76.80 242.36L77.05 242.39L77.30 242.42L77.55 242.45L77.80 242.47L78.05 242.49L78.30 242.50L78.55 242.51L78.80 242.51L79.05 242.50L79.30 242.45L79.55 242.35L79.80 242.20L80.05 241.96L80.30 241.62L80.55 241.18L80.80 240.69L81.05 240.32L81.30 240.26L81.55 240.54L81.80 241.02L82.05 241.48L82.30 241.84L82.55 242.10L82.80 242.27L83.05 242.38L83.30 242.46L83.55 242.51L83.80 242.55L84.05 242.58L84.30 242.58L84.55 242.57L84.80 242.55L85.05 242.52L85.30 242.47L85.55 242.38L85.80 242.25L86.05 242.06L86.30 241.81L86.55 241.49L86.80 241.19L87.05 241.06L87.30 241.14L87.55 241.32L87.80 241.48L88.05 241.55L88.30 241.52L88.55 241.42L88.80 241.30L89.05 241.29L89.30 241.40L89.55 241.56L89.80 241.73L90.05 241.86L90.30 241.95L90.55 242.00L90.80 242.04L91.05 242.05L91.30 242.06L91.55 242.07L91.80 242.07L92.05 242.06L92.30 242.05L92.55 242.04L92.80 242.01L93.05 241.96L93.30 241.89L93.55 241.78L93.80 241.67L94.05 241.53L94.30 241.43L94.55 241.42L94.80 241.53L95.05 241.71L95.30 241.89L95.55 242.05L95.80 242.16L96.05 242.22L96.30 242.21L96.55 242.18L96.80 242.14L97.05 242.09L97.30 242.03L97.55 241.94L97.80 241.83L98.05 241.66L98.30 241.41L98.55 241.06L98.80 240.59L99.05 240.00L99.30 239.43L99.55 239.11L99.80 239.26L100.05 239.77L100.30 240.38L100.55 240.90L100.80 241.30L101.05 241.53L101.30 241.67L101.55 241.74L101.80 241.78L102.05 241.79L102.30 241.79L102.55 241.78L102.80 241.76L103.05 241.74L103.30 241.73L103.55 241.72L103.80 241.70L104.05 241.65L104.30 241.58L104.55 241.46L104.80 241.31L105.05 241.13L105.30 240.97L105.55 240.92L105.80 241.00L106.05 241.15L106.30 241.30L106.55 241.41L106.80 241.48L107.05 241.51L107.30 241.50L107.55 241.47L107.80 241.43L108.05 241.36L108.30 241.28L108.55 241.16L108.80 241.00L109.05 240.74L109.30 240.33L109.55 239.69L109.80 238.70L110.05 237.29L110.30 235.48L110.55 233.48L110.80 231.86L111.05 231.42L111.30 232.45L111.55 234.33L111.80 236.32L112.05 237.99L112.30 239.24L112.55 240.09L112.80 240.65L113.05 240.99L113.30 241.20L113.55 241.35L113.80 241.46L114.05 241.54L114.30 241.60L114.55 241.65L114.80 241.69L115.05 241.72L115.30 241.75L115.55 241.79L115.80 241.82L116.05 241.84L116.30 241.86L116.55 241.86L116.80 241.86L117.05 241.83L117.30 241.77L117.55 241.66L117.80 241.45L118.05 241.13L118.30 240.70L118.55 240.18L118.80 239.65L119.05 239.27L119.30 239.23L119.55 239.55L119.80 240.07L120.05 240.60L120.30 241.07L120.55 241.43L120.80 241.69L121.05 241.86L121.30 241.98L121.55 242.06L121.80 242.12L122.05 242.15L122.30 242.18L122.55 242.17L122.80 242.14L123.05 242.08L123.30 241.96L123.55 241.78L123.80 241.53L124.05 241.25L124.30 241.00L124.55 240.91L124.80 241.04L125.05 241.29L125.30 241.53L125.55 241.70L125.80 241.76L126.05 241.72L126.30 241.54L126.55 241.18L126.80 240.58L127.05 239.70L127.30 238.55L127.55 237.25L127.80 236.19L128.05 235.89L128.30 236.54L128.55 237.75L128.80 239.01L129.05 240.06L129.30 240.84L129.55 241.35L129.80 241.63L130.05 241.75L130.30 241.73L130.55 241.60L130.80 241.37L131.05 241.08L131.30 240.83L131.55 240.76L131.80 240.94L132.05 241.26L132.30 241.63L132.55 241.94L132.80 242.17L133.05 242.34L133.30 242.45L133.55 242.53L133.80 242.60L134.05 242.64L134.30 242.68L134.55 242.68L134.80 242.65L135.05 242.60L135.30 242.49L135.55 242.30L135.80 241.99L136.05 241.50L136.30 240.85L136.55 240.10L136.80 239.46L137.05 239.27L137.30 239.68L137.55 240.42L137.80 241.16L138.05 241.75L138.30 242.17L138.55 242.44L138.80 242.60L139.05 242.69L139.30 242.72L139.55 242.72L139.80 242.68L140.05 242.60L140.30 242.46L140.55 242.24L140.80 241.95L141.05 241.62L141.30 241.33L141.55 241.24L141.80 241.41L142.05 241.72L142.30 242.04L142.55 242.29L142.80 242.46L143.05 242.57L143.30 242.62L143.55 242.64L143.80 242.62L144.05 242.57L144.30 242.43L144.55 242.20L144.80 241.85L145.05 241.34L145.30 240.65L145.55 239.86L145.80 239.19L146.05 238.98L146.30 239.36L146.55 240.10L146.80 240.87L147.05 241.51L147.30 241.96L147.55 242.26L147.80 242.46L148.05 242.58L148.30 242.66L148.55 242.72L148.80 242.76L149.05 242.72L149.30 242.65L149.55 242.54L149.80 242.34L150.05 242.05L150.30 241.65L150.55 241.20L150.80 240.81L151.05 240.69L151.30 240.92L151.55 241.32L151.80 241.73L152.05 242.06L152.30 242.28L152.55 242.41L152.80 242.47L153.05 242.48L153.30 242.46L153.55 242.41L153.80 242.31L154.05 242.14L154.30 241.85L154.55 241.43L154.80 240.86L155.05 240.21L155.30 239.65L155.55 239.49L155.80 239.82L156.05 240.43L156.30 241.09L156.55 241.63L156.80 242.02L157.05 242.28L157.30 242.44L157.55 242.54L157.80 242.60L158.05 242.61L158.30 242.58L158.55 242.45L158.80 242.21L159.05 241.83L159.30 241.32L159.55 240.72L159.80 240.22L160.05 240.07L160.30 240.39L160.55 240.97L160.80 241.54L161.05 241.94L161.30 242.19L161.55 242.31L161.80 242.30L162.05 242.17L162.30 241.91L162.55 241.50L162.80 240.91L163.05 240.18L163.30 239.48L163.55 239.14L163.80 239.36L164.05 240.02L164.30 240.79L164.55 241.45L164.80 241.96L165.05 242.31L165.30 242.53L165.55 242.68L165.80 242.73L166.05 242.73L166.30 242.70L166.55 242.63L166.80 242.52L167.05 242.35L167.30 242.13L167.55 241.86L167.80 241.63L168.05 241.54L168.30 241.64L168.55 241.84L168.80 242.03L169.05 242.17L169.30 242.24L169.55 242.25L169.80 242.20L170.05 242.10L170.30 241.92L170.55 241.65L170.80 241.23L171.05 240.57L171.30 239.62L171.55 238.37L171.80 236.89L172.05 235.45L172.30 234.55L172.55 234.65L172.80 235.71L173.05 237.20L173.30 238.65L173.55 239.84L173.80 240.70L174.05 241.26L174.30 241.55L174.55 241.62L174.80 241.50L175.05 241.21L175.30 240.77L175.55 240.27L175.80 239.87L176.05 239.79L176.30 240.10L176.55 240.66L176.80 241.26L177.05 241.78L177.30 242.19L177.55 242.47L177.80 242.62L178.05 242.69L178.30 242.69L178.55 242.65L178.80 242.54L179.05 242.38L179.30 242.15L179.55 241.89L179.80 241.66L180.05 241.59L180.30 241.77L180.55 242.04L180.80 242.32L181.05 242.55L181.30 242.72L181.55 242.84L181.80 242.93L182.05 243.00L182.30 243.05L182.55 243.06L182.80 243.05L183.05 243.02L183.30 243.00L183.55 242.97L183.80 242.93L184.05 242.89L184.30 242.84L184.55 242.76L184.80 242.66L185.05 242.58L185.30 242.46L185.55 242.32L185.80 242.20L186.05 242.19L186.30 242.32L186.55 242.53L186.80 242.74L187.05 242.92L187.30 243.03L187.55 243.07L187.80 243.09L188.05 243.09L188.30 243.07L188.55 243.05L188.80 243.03L189.05 242.99L189.30 242.94L189.55 242.86L189.80 242.79L190.05 242.69L190.30 242.54L190.55 242.36L190.80 242.21L191.05 242.18L191.30 242.31L191.55 242.52L191.80 242.72L192.05 242.89L192.30 242.98L192.55 243.03L192.80 243.05L193.05 243.03L193.30 242.99L193.55 242.92L193.80 242.81L194.05 242.63L194.30 242.35L194.55 241.93L194.80 241.36L195.05 240.63L195.30 239.78L195.55 238.93L195.80 238.28L196.05 238.08L196.30 238.43L196.55 239.13L196.80 239.94L197.05 240.73L197.30 241.39L197.55 241.87L197.80 242.20L198.05 242.39L198.30 242.46L198.55 242.43L198.80 242.33L199.05 242.20L199.30 242.07L199.55 242.02L199.80 242.12L200.05 242.30L200.30 242.50L200.55 242.67L200.80 242.79L201.05 242.87L201.30 242.91L201.55 242.93L201.80 242.94L202.05 242.96L202.30 242.96L202.55 242.96L202.80 242.96L203.05 242.95L203.30 242.94L203.55 242.93L203.80 242.91L204.05 242.89L204.30 242.90L204.55 242.88L204.80 242.83L205.05 242.74L205.30 242.62L205.55 242.46L205.80 242.34L206.05 242.32L206.30 242.45L206.55 242.62L206.80 242.76L207.05 242.87L207.30 242.94L207.55 242.98L207.80 242.99L208.05 242.98L208.30 242.96L208.55 242.93L208.80 242.89L209.05 242.89L209.30 242.87L209.55 242.82L209.80 242.75L210.05 242.63L210.30 242.46L210.55 242.27L210.80 242.11L211.05 242.07L211.30 242.18L211.55 242.38L211.80 242.59L212.05 242.75L212.30 242.87L212.55 242.95L212.80 243.00L213.05 243.03L213.30 243.05L213.55 243.06L213.80 243.06L214.05 243.06L214.30 243.05L214.55 243.04L214.80 243.02L215.05 242.99L215.30 242.94L215.55 242.87L215.80 242.76L216.05 242.58L216.30 242.29L216.55 241.88L216.80 241.34L217.05 240.64L217.30 239.84L217.55 239.03L217.80 238.42L218.05 238.23L218.30 238.55L218.55 239.21L218.80 239.99L219.05 240.70L219.30 241.27L219.55 241.69L219.80 241.96L220.05 242.09L220.30 242.09L220.55 241.99L220.80 241.78L221.05 241.52L221.30 241.19L221.55 240.86L221.80 240.61L222.05 240.59L222.30 240.84L222.55 241.26L222.80 241.74L223.05 242.18L223.30 242.53L223.55 242.75L223.80 242.89L224.05 242.98L224.30 243.02L224.55 243.01L224.80 242.98L225.05 242.90L225.30 242.78L225.55 242.61L225.80 242.44L226.05 242.27L226.30 242.15L226.55 242.15L226.80 242.29L227.05 242.53L227.30 242.78L227.55 243.01L227.80 243.19L228.05 243.32L228.30 243.38L228.55 243.41L228.80 243.42L229.05 243.42L229.30 243.39L229.55 243.33L229.80 243.24L230.05 243.11L230.30 242.94L230.55 242.75L230.80 242.58L231.05 242.52L231.30 242.58L231.55 242.72L231.80 242.87L232.05 243.00L232.30 243.09L232.55 243.14L232.80 243.16L233.05 243.19L233.30 243.20L233.55 243.18L233.80 243.14L234.05 243.07L234.30 242.95L234.55 242.78L234.80 242.57L235.05 242.34L235.30 242.16L235.55 242.11L235.80 242.23L236.05 242.44L236.30 242.67L236.55 242.87L236.80 243.02L237.05 243.12L237.30 243.18L237.55 243.20L237.80 243.20L238.05 243.17L238.30 243.09L238.55 242.96L238.80 242.75L239.05 242.46L239.30 242.10L239.55 241.71L239.80 241.40L240.05 241.31L240.30 241.49L240.55 241.84L240.80 242.21L241.05 242.52L241.30 242.74L241.55 242.85L241.80 242.85L242.05 242.75L242.30 242.54L242.55 242.25L242.80 241.92L243.05 241.62L243.30 241.51L243.55 241.65L243.80 241.97L244.05 242.34L244.30 242.67L244.55 242.93L244.80 243.12L245.05 243.26L245.30 243.35L245.55 243.40L245.80 243.45L246.05 243.48L246.30 243.50L246.55 243.52L246.80 243.54L247.05 243.55L247.30 243.57L247.55 243.59" stroke="#1a1a1a" stroke-width="1.08" fill="none" stroke-linejoin="round" stroke-linecap="round"/>
<path d="M299.00 77.00C300.20 77.05 304.60 77.21 307.00 77.30C309.40 77.39 312.60 77.52 315.00 77.60C317.40 77.67 320.60 77.77 323.00 77.80C325.40 77.83 328.90 77.89 331.00 77.80C333.10 77.71 335.35 77.53 337.00 77.20C338.65 76.87 340.65 76.23 342.00 75.60C343.35 74.97 344.95 73.69 346.00 73.00C347.05 72.31 347.95 71.48 349.00 71.00C350.05 70.52 351.80 70.10 353.00 69.80C354.20 69.50 355.95 69.21 357.00 69.00C358.05 68.79 359.25 68.46 360.00 68.40C360.75 68.34 361.10 68.36 362.00 68.60C362.90 68.84 364.65 69.49 366.00 70.00C367.35 70.51 369.35 71.43 371.00 72.00C372.65 72.57 375.20 73.35 377.00 73.80C378.80 74.25 380.30 74.61 383.00 75.00C385.70 75.39 391.70 76.07 395.00 76.40C398.30 76.73 400.20 76.87 405.00 77.20C409.80 77.53 421.00 78.18 427.00 78.60C433.00 79.02 441.10 79.64 445.00 80.00C448.90 80.36 451.27 80.79 453.00 81.00C454.73 81.21 455.72 81.55 456.50 81.40C457.28 81.25 457.74 81.41 458.20 80.00C458.66 78.59 459.09 75.00 459.60 72.00C460.11 69.00 460.97 62.40 461.60 60.00C462.23 57.60 463.23 55.85 463.80 56.00C464.37 56.15 464.88 60.82 465.40 61.00C465.92 61.18 466.73 58.19 467.30 57.20C467.87 56.21 468.58 54.10 469.20 54.40C469.81 54.70 470.83 59.11 471.40 59.20C471.97 59.29 472.42 56.34 473.00 55.00C473.58 53.66 474.79 50.81 475.30 50.30C475.81 49.79 475.83 52.62 476.40 51.60C476.97 50.58 478.43 43.59 479.10 43.50C479.78 43.41 480.42 48.90 480.90 51.00C481.38 53.10 481.72 58.55 482.30 57.50C482.88 56.45 484.12 44.86 484.80 44.00C485.48 43.14 486.16 51.86 486.80 51.80C487.44 51.74 488.52 45.90 489.10 43.60C489.69 41.30 490.22 37.22 490.70 36.50C491.18 35.78 491.99 38.54 492.30 38.80C492.62 39.05 492.40 37.54 492.80 38.20C493.20 38.86 494.32 42.24 495.00 43.20C495.68 44.16 496.62 43.73 497.30 44.60C497.98 45.47 498.62 47.80 499.50 49.00C500.38 50.20 502.07 51.48 503.20 52.60C504.32 53.73 505.74 55.31 507.00 56.50C508.26 57.69 510.70 59.95 511.60 60.50C512.50 61.05 512.57 60.53 513.00 60.20C513.43 59.87 514.05 58.03 514.50 58.30C514.95 58.57 515.53 60.99 516.00 62.00C516.47 63.01 517.18 65.30 517.60 65.00C518.02 64.70 518.50 62.55 518.80 60.00C519.10 57.45 519.38 51.08 519.60 48.00C519.83 44.92 520.06 39.12 520.30 39.50C520.54 39.88 520.80 49.08 521.20 50.50C521.61 51.92 522.28 49.13 523.00 49.00C523.72 48.87 525.10 49.36 526.00 49.60C526.90 49.84 528.00 50.20 529.00 50.60C530.00 51.01 531.80 52.15 532.70 52.30C533.60 52.45 534.50 51.47 535.00 51.60C535.50 51.73 535.76 53.59 536.00 53.20C536.24 52.81 536.42 48.79 536.60 49.00C536.78 49.21 537.02 54.75 537.20 54.60C537.38 54.45 537.62 48.39 537.80 48.00C537.98 47.61 538.31 51.40 538.40 52.00" stroke="#f99a30" stroke-width="1.08" fill="none" stroke-linejoin="round" stroke-linecap="round"/>
<path d="M299.00 115.00C300.65 115.02 306.10 115.10 310.00 115.10C313.90 115.10 322.00 115.14 325.00 115.00C328.00 114.86 328.50 114.50 330.00 114.20C331.50 113.90 333.20 113.51 335.00 113.00C336.80 112.49 339.90 111.49 342.00 110.80C344.10 110.11 347.20 108.88 349.00 108.40C350.80 107.92 352.50 107.77 354.00 107.60C355.50 107.43 357.65 107.24 359.00 107.30C360.35 107.36 361.50 107.66 363.00 108.00C364.50 108.34 367.20 109.15 369.00 109.60C370.80 110.05 373.05 110.56 375.00 111.00C376.95 111.44 379.90 112.11 382.00 112.50C384.10 112.89 385.55 113.31 389.00 113.60C392.45 113.88 399.60 114.13 405.00 114.40C410.40 114.67 419.00 115.10 425.00 115.40C431.00 115.70 440.80 116.16 445.00 116.40C449.20 116.64 451.27 116.88 453.00 117.00C454.73 117.12 455.72 117.50 456.50 117.20C457.28 116.90 457.75 116.68 458.20 115.00C458.65 113.32 459.08 109.08 459.50 106.00C459.92 102.92 460.48 96.53 461.00 94.50C461.52 92.47 462.40 92.35 463.00 92.50C463.60 92.65 464.31 96.30 465.00 95.50C465.69 94.70 466.91 87.88 467.60 87.20C468.29 86.53 468.97 89.91 469.60 91.00C470.23 92.09 471.14 94.72 471.80 94.50C472.46 94.28 473.44 90.85 474.00 89.50C474.56 88.15 474.98 86.92 475.50 85.50C476.02 84.08 476.82 82.33 477.50 80.00C478.18 77.67 479.42 70.30 480.00 70.00C480.58 69.70 480.98 75.15 481.40 78.00C481.82 80.85 482.34 88.85 482.80 89.00C483.26 89.15 484.05 79.90 484.50 79.00C484.95 78.10 485.43 81.65 485.80 83.00C486.18 84.35 486.58 88.45 487.00 88.00C487.42 87.55 488.09 82.46 488.60 80.00C489.11 77.54 489.89 72.35 490.40 71.60C490.91 70.85 491.52 73.89 492.00 75.00C492.48 76.11 492.85 77.65 493.60 79.00C494.35 80.35 495.89 82.50 497.00 84.00C498.11 85.50 499.65 87.50 501.00 89.00C502.35 90.50 504.38 92.50 506.00 94.00C507.62 95.50 510.60 98.43 511.80 99.00C513.00 99.57 513.40 97.58 514.00 97.80C514.60 98.02 515.26 99.63 515.80 100.50C516.34 101.37 517.15 103.97 517.60 103.60C518.05 103.22 518.47 100.64 518.80 98.00C519.13 95.36 519.54 88.70 519.80 86.00C520.05 83.30 520.25 79.70 520.50 80.00C520.75 80.30 521.17 87.85 521.50 88.00C521.83 88.15 522.30 80.85 522.70 81.00C523.11 81.15 523.74 88.10 524.20 89.00C524.67 89.90 525.33 87.67 525.80 87.00C526.26 86.33 526.82 85.70 527.30 84.50C527.78 83.30 528.52 80.58 529.00 79.00C529.48 77.42 530.11 74.15 530.50 74.00C530.89 73.85 531.27 76.69 531.60 78.00C531.93 79.31 532.19 81.44 532.70 82.70C533.21 83.96 534.48 86.36 535.00 86.40C535.52 86.45 535.93 83.14 536.20 83.00C536.47 82.86 536.62 85.72 536.80 85.50C536.98 85.28 537.22 81.65 537.40 81.50C537.58 81.35 537.84 84.42 538.00 84.50C538.16 84.58 538.42 82.38 538.50 82.00" stroke="#21b851" stroke-width="1.08" fill="none" stroke-linejoin="round" stroke-linecap="round"/>
<path d="M299.00 149.60C300.65 149.61 306.70 149.70 310.00 149.70C313.30 149.70 318.30 149.79 321.00 149.60C323.70 149.41 325.90 148.88 328.00 148.40C330.10 147.92 333.05 146.97 335.00 146.40C336.95 145.83 339.20 145.11 341.00 144.60C342.80 144.09 345.35 143.34 347.00 143.00C348.65 142.66 350.50 142.45 352.00 142.30C353.50 142.15 355.35 141.97 357.00 142.00C358.65 142.03 361.20 142.29 363.00 142.50C364.80 142.71 367.05 143.13 369.00 143.40C370.95 143.67 373.90 144.06 376.00 144.30C378.10 144.54 380.15 144.67 383.00 145.00C385.85 145.33 391.70 146.17 395.00 146.50C398.30 146.83 400.50 146.88 405.00 147.20C409.50 147.51 419.00 148.18 425.00 148.60C431.00 149.02 440.80 149.67 445.00 150.00C449.20 150.33 451.31 150.65 453.00 150.80C454.69 150.95 455.55 151.42 456.30 151.00C457.05 150.58 457.54 150.10 458.00 148.00C458.46 145.90 458.95 140.04 459.40 137.00C459.85 133.96 460.64 129.31 461.00 127.70C461.36 126.09 461.41 126.16 461.80 126.30C462.19 126.44 463.06 128.94 463.60 128.60C464.14 128.25 464.84 125.64 465.40 124.00C465.95 122.36 466.82 118.00 467.30 117.70C467.78 117.40 468.20 120.75 468.60 122.00C469.00 123.25 469.30 124.59 470.00 126.00C470.70 127.41 472.50 131.85 473.30 131.40C474.10 130.95 474.70 125.61 475.30 123.00C475.90 120.39 476.78 116.25 477.30 114.00C477.82 111.75 478.34 109.80 478.80 108.00C479.26 106.20 480.00 101.70 480.40 102.00C480.80 102.30 481.15 107.51 481.50 110.00C481.85 112.49 482.38 117.85 482.70 118.60C483.01 119.35 483.21 114.64 483.60 115.00C483.99 115.36 484.79 119.50 485.30 121.00C485.81 122.50 486.52 125.45 487.00 125.00C487.48 124.55 488.05 119.91 488.50 118.00C488.95 116.09 489.50 112.45 490.00 112.30C490.50 112.15 491.26 115.50 491.80 117.00C492.34 118.50 492.67 120.69 493.60 122.30C494.53 123.91 496.74 126.45 498.00 127.70C499.26 128.94 500.74 129.81 502.00 130.60C503.26 131.39 505.20 132.25 506.40 133.00C507.60 133.75 508.92 135.36 510.00 135.60C511.08 135.84 512.76 134.45 513.60 134.60C514.44 134.75 515.00 136.00 515.60 136.60C516.20 137.20 517.12 139.14 517.60 138.60C518.08 138.06 518.44 135.44 518.80 133.00C519.16 130.56 519.62 123.09 520.00 122.30C520.38 121.50 520.97 128.05 521.30 127.70C521.63 127.36 521.95 122.31 522.20 120.00C522.46 117.69 522.73 112.30 523.00 112.30C523.27 112.30 523.70 117.83 524.00 120.00C524.30 122.17 524.61 126.35 525.00 126.80C525.39 127.25 526.12 124.23 526.60 123.00C527.08 121.77 527.75 120.40 528.20 118.60C528.65 116.80 529.18 113.23 529.60 111.00C530.02 108.77 530.65 104.00 531.00 103.70C531.35 103.40 531.64 107.31 531.90 109.00C532.15 110.69 532.31 113.42 532.70 115.00C533.09 116.58 534.00 119.20 534.50 119.50C535.00 119.80 535.65 117.15 536.00 117.00C536.35 116.85 536.56 118.80 536.80 118.50C537.04 118.20 537.35 115.22 537.60 115.00C537.86 114.78 538.37 116.70 538.50 117.00" stroke="#3535ff" stroke-width="1.08" fill="none" stroke-linejoin="round" stroke-linecap="round"/>
<path d="M299.00 172.00C300.95 172.05 308.10 172.24 312.00 172.30C315.90 172.36 322.30 172.47 325.00 172.40C327.70 172.33 328.50 172.01 330.00 171.80C331.50 171.59 333.35 171.27 335.00 171.00C336.65 170.73 339.20 170.24 341.00 170.00C342.80 169.76 345.05 169.46 347.00 169.40C348.95 169.34 351.90 169.51 354.00 169.60C356.10 169.69 358.60 169.85 361.00 170.00C363.40 170.15 367.30 170.45 370.00 170.60C372.70 170.75 375.25 170.88 379.00 171.00C382.75 171.12 391.10 171.25 395.00 171.40C398.90 171.55 400.50 171.88 405.00 172.00C409.50 172.12 419.00 172.12 425.00 172.20C431.00 172.27 440.80 172.43 445.00 172.50C449.20 172.57 451.35 172.85 453.00 172.70C454.65 172.55 455.28 172.20 456.00 171.50C456.72 170.80 457.26 169.28 457.80 168.00C458.34 166.72 459.06 164.57 459.60 163.00C460.14 161.43 460.98 157.95 461.40 157.50C461.82 157.05 462.07 159.32 462.40 160.00C462.73 160.68 463.15 162.45 463.60 162.00C464.05 161.55 464.84 158.53 465.40 157.00C465.95 155.47 466.82 151.95 467.30 151.80C467.78 151.65 468.20 154.62 468.60 156.00C469.00 157.38 469.28 159.72 470.00 161.00C470.72 162.28 472.59 165.10 473.40 164.50C474.21 163.90 474.81 159.18 475.40 157.00C475.98 154.82 476.76 151.65 477.30 150.00C477.84 148.35 478.52 147.25 479.00 146.00C479.48 144.75 480.11 141.40 480.50 141.70C480.89 142.00 481.27 145.93 481.60 148.00C481.93 150.07 482.28 153.78 482.70 155.50C483.12 157.22 483.83 158.42 484.40 159.50C484.97 160.58 485.99 162.70 486.50 162.70C487.01 162.70 487.41 160.41 487.80 159.50C488.19 158.59 488.65 156.53 489.10 156.60C489.55 156.67 490.26 158.95 490.80 160.00C491.34 161.05 492.07 162.73 492.70 163.60C493.33 164.47 494.31 165.29 495.00 165.80C495.69 166.31 496.40 166.70 497.30 167.00C498.20 167.30 499.92 167.62 501.00 167.80C502.08 167.98 503.15 168.08 504.50 168.20C505.85 168.32 508.22 168.56 510.00 168.60C511.78 168.64 515.14 168.89 516.40 168.50C517.66 168.11 517.86 166.74 518.40 166.00C518.94 165.26 519.49 164.09 520.00 163.60C520.51 163.10 521.41 163.84 521.80 162.70C522.19 161.56 522.38 157.91 522.60 156.00C522.83 154.09 523.07 150.00 523.30 150.00C523.52 150.00 523.85 154.09 524.10 156.00C524.36 157.91 524.62 162.10 525.00 162.70C525.38 163.30 526.12 160.81 526.60 160.00C527.08 159.19 527.78 158.80 528.20 157.30C528.62 155.80 529.05 152.24 529.40 150.00C529.75 147.76 530.17 142.55 530.50 142.40C530.83 142.25 531.27 147.03 531.60 149.00C531.93 150.97 532.27 153.85 532.70 155.50C533.13 157.15 534.03 159.78 534.50 160.00C534.97 160.22 535.48 157.22 535.80 157.00C536.12 156.78 536.38 158.80 536.60 158.50C536.83 158.20 537.09 155.15 537.30 155.00C537.51 154.85 537.82 157.35 538.00 157.50C538.18 157.65 538.42 156.22 538.50 156.00" stroke="#ff3333" stroke-width="1.08" fill="none" stroke-linejoin="round" stroke-linecap="round"/>
<path d="M299.00 208.60C300.65 208.60 306.85 208.61 310.00 208.60C313.15 208.59 317.60 208.65 320.00 208.50C322.40 208.35 324.05 207.97 326.00 207.60C327.95 207.22 330.90 206.41 333.00 206.00C335.10 205.59 338.05 205.14 340.00 204.90C341.95 204.66 343.75 204.41 346.00 204.40C348.25 204.39 351.40 204.62 355.00 204.80C358.60 204.98 365.80 205.36 370.00 205.60C374.20 205.84 379.25 206.19 383.00 206.40C386.75 206.61 389.45 206.85 395.00 207.00C400.55 207.15 413.25 207.31 420.00 207.40C426.75 207.49 435.20 207.57 440.00 207.60C444.80 207.63 449.68 207.78 452.00 207.60C454.32 207.42 454.69 207.09 455.50 206.40C456.31 205.71 456.88 204.11 457.40 203.00C457.92 201.89 458.58 200.20 459.00 199.00C459.42 197.80 459.85 196.35 460.20 195.00C460.55 193.65 461.01 190.30 461.30 190.00C461.59 189.70 461.85 192.07 462.10 193.00C462.36 193.93 462.69 196.35 463.00 196.20C463.31 196.05 463.82 193.34 464.20 192.00C464.57 190.66 465.17 188.58 465.50 187.30C465.83 186.03 466.13 184.53 466.40 183.50C466.67 182.47 467.01 180.03 467.30 180.40C467.59 180.78 467.95 184.16 468.30 186.00C468.65 187.84 469.14 190.97 469.60 192.70C470.06 194.42 470.84 196.34 471.40 197.50C471.95 198.66 472.84 200.78 473.30 200.40C473.76 200.03 474.17 196.97 474.50 195.00C474.83 193.03 475.22 189.25 475.50 187.30C475.78 185.35 476.13 183.34 476.40 182.00C476.67 180.66 477.07 178.91 477.30 178.40C477.53 177.89 477.72 178.39 477.90 178.60C478.08 178.81 478.27 180.34 478.50 179.80C478.73 179.26 479.12 176.43 479.40 175.00C479.68 173.57 480.10 169.85 480.40 170.30C480.70 170.75 481.05 175.45 481.40 178.00C481.75 180.55 482.25 184.90 482.70 187.30C483.15 189.70 483.84 192.37 484.40 194.00C484.95 195.63 485.92 198.20 486.40 198.20C486.88 198.20 487.25 195.16 487.60 194.00C487.95 192.84 488.34 190.35 488.70 190.50C489.06 190.65 489.58 193.72 490.00 195.00C490.42 196.28 491.05 197.98 491.50 199.00C491.95 200.02 492.48 201.11 493.00 201.80C493.52 202.49 494.40 203.42 495.00 203.60C495.60 203.78 496.40 203.21 497.00 203.00C497.60 202.79 498.49 202.17 499.00 202.20C499.51 202.23 499.98 202.93 500.40 203.20C500.82 203.47 501.11 203.94 501.80 204.00C502.49 204.06 504.37 203.57 505.00 203.60C505.63 203.63 505.70 204.26 506.00 204.20C506.30 204.14 506.40 203.41 507.00 203.20C507.60 202.99 509.10 202.92 510.00 202.80C510.90 202.68 511.91 202.55 513.00 202.40C514.10 202.25 516.43 202.22 517.30 201.80C518.17 201.38 518.39 200.28 518.80 199.60C519.20 198.92 519.55 197.92 520.00 197.30C520.45 196.69 521.44 197.19 521.80 195.50C522.16 193.81 522.22 188.82 522.40 186.00C522.58 183.18 522.80 176.85 523.00 176.70C523.20 176.55 523.48 182.47 523.70 185.00C523.93 187.53 524.23 191.89 524.50 193.60C524.77 195.31 525.15 196.64 525.50 196.40C525.85 196.16 526.39 193.37 526.80 192.00C527.20 190.63 527.83 189.55 528.20 187.30C528.58 185.05 528.95 180.13 529.30 177.00C529.64 173.87 530.17 166.70 530.50 166.40C530.83 166.10 531.17 172.42 531.50 175.00C531.83 177.58 532.30 181.35 532.70 183.60C533.11 185.85 533.80 189.64 534.20 190.00C534.61 190.36 535.10 187.05 535.40 186.00C535.70 184.95 535.96 183.78 536.20 183.00C536.44 182.22 536.79 180.58 537.00 180.80C537.21 181.03 537.42 184.32 537.60 184.50C537.78 184.68 538.05 181.85 538.20 182.00C538.35 182.15 538.54 184.97 538.60 185.50" stroke="#1a1a1a" stroke-width="1.08" fill="none" stroke-linejoin="round" stroke-linecap="round"/>
<rect x="22.55" y="4.5" width="242.05" height="241.45" fill="none" stroke="#464646" stroke-width="1"/>
<rect x="298.65" y="22.45" width="242.80" height="199.40" fill="none" stroke="#464646" stroke-width="1"/>
<g font-family="'Liberation Sans', Arial, sans-serif" fill="#1c1c1c" stroke="#1c1c1c" stroke-width="0.12">
<text x="27.6" y="24.9" font-size="18" stroke-width="0.4">A</text>
<text x="303.9" y="44.2" font-size="18" stroke-width="0.4">B</text>
<text x="39.84" y="258.0" font-size="8.6" text-anchor="middle" textLength="4.28" lengthAdjust="spacingAndGlyphs">5</text>
<text x="57.13" y="258.0" font-size="8.6" text-anchor="middle" textLength="8.56" lengthAdjust="spacingAndGlyphs">10</text>
<text x="74.42" y="258.0" font-size="8.6" text-anchor="middle" textLength="8.56" lengthAdjust="spacingAndGlyphs">15</text>
<text x="91.71" y="258.0" font-size="8.6" text-anchor="middle" textLength="8.56" lengthAdjust="spacingAndGlyphs">20</text>
<text x="109.00" y="258.0" font-size="8.6" text-anchor="middle" textLength="8.56" lengthAdjust="spacingAndGlyphs">25</text>
<text x="126.29" y="258.0" font-size="8.6" text-anchor="middle" textLength="8.56" lengthAdjust="spacingAndGlyphs">30</text>
<text x="143.58" y="258.0" font-size="8.6" text-anchor="middle" textLength="8.56" lengthAdjust="spacingAndGlyphs">35</text>
<text x="160.86" y="258.0" font-size="8.6" text-anchor="middle" textLength="8.56" lengthAdjust="spacingAndGlyphs">40</text>
<text x="178.15" y="258.0" font-size="8.6" text-anchor="middle" textLength="8.56" lengthAdjust="spacingAndGlyphs">45</text>
<text x="195.44" y="258.0" font-size="8.6" text-anchor="middle" textLength="8.56" lengthAdjust="spacingAndGlyphs">50</text>
<text x="212.73" y="258.0" font-size="8.6" text-anchor="middle" textLength="8.56" lengthAdjust="spacingAndGlyphs">55</text>
<text x="230.02" y="258.0" font-size="8.6" text-anchor="middle" textLength="8.56" lengthAdjust="spacingAndGlyphs">60</text>
<text x="247.31" y="258.0" font-size="8.6" text-anchor="middle" textLength="8.56" lengthAdjust="spacingAndGlyphs">65</text>
<text x="298.65" y="234.2" font-size="8.8" text-anchor="middle" textLength="17.90" lengthAdjust="spacingAndGlyphs">4000</text>
<text x="333.34" y="234.2" font-size="8.8" text-anchor="middle" textLength="17.90" lengthAdjust="spacingAndGlyphs">3500</text>
<text x="368.02" y="234.2" font-size="8.8" text-anchor="middle" textLength="17.90" lengthAdjust="spacingAndGlyphs">3000</text>
<text x="402.71" y="234.2" font-size="8.8" text-anchor="middle" textLength="17.90" lengthAdjust="spacingAndGlyphs">2500</text>
<text x="437.39" y="234.2" font-size="8.8" text-anchor="middle" textLength="17.90" lengthAdjust="spacingAndGlyphs">2000</text>
<text x="472.08" y="234.2" font-size="8.8" text-anchor="middle" textLength="17.90" lengthAdjust="spacingAndGlyphs">1500</text>
<text x="506.76" y="234.2" font-size="8.8" text-anchor="middle" textLength="17.90" lengthAdjust="spacingAndGlyphs">1000</text>
<text x="541.45" y="234.2" font-size="8.8" text-anchor="middle" textLength="13.43" lengthAdjust="spacingAndGlyphs">500</text>
<text x="143.5" y="270.5" font-size="9.8" text-anchor="middle">2θ (º)</text>
<text x="419.7" y="248.0" font-size="9.5" textLength="117.6" lengthAdjust="spacingAndGlyphs" text-anchor="middle">wavelenght number (cm<tspan font-size="6.4" dy="-3.6">−1</tspan><tspan dy="3.6">)</tspan></text>
<text transform="translate(11.9 125.1) rotate(-90)" font-size="9.6" textLength="64.4" lengthAdjust="spacingAndGlyphs" text-anchor="middle">Intensity (a.u.)</text>
<text transform="translate(289.3 133.7) rotate(-90)" font-size="9.8" textLength="78.9" lengthAdjust="spacingAndGlyphs" text-anchor="middle">Absorbance (a.u.)</text>
</g>
<g font-family="'Liberation Sans', Arial, sans-serif" font-weight="bold" stroke-width="0.32">
<text transform="translate(247.4 33.9) scale(0.86 1)" font-size="9.3" letter-spacing="0.656" fill="#f68d1c" stroke="#f68d1c" text-anchor="end">g-C<tspan font-size="5.77" dy="3.16">3</tspan><tspan dy="-3.16">N</tspan><tspan font-size="5.77" dy="3.16">4</tspan><tspan dy="-3.16"></tspan></text>
<text transform="translate(247.4 72.6) scale(0.86 1)" font-size="9.3" letter-spacing="0.445" fill="#10aa40" stroke="#10aa40" text-anchor="end">75%-g-C<tspan font-size="5.77" dy="3.16">3</tspan><tspan dy="-3.16">N</tspan><tspan font-size="5.77" dy="3.16">4</tspan><tspan dy="-3.16">/UiO-66-NH</tspan><tspan font-size="5.77" dy="3.16">2</tspan><tspan dy="-3.16"></tspan></text>
<text transform="translate(247.4 117.8) scale(0.86 1)" font-size="9.3" letter-spacing="0.445" fill="#2222f0" stroke="#2222f0" text-anchor="end">50%-g-C<tspan font-size="5.77" dy="3.16">3</tspan><tspan dy="-3.16">N</tspan><tspan font-size="5.77" dy="3.16">4</tspan><tspan dy="-3.16">/UiO-66-NH</tspan><tspan font-size="5.77" dy="3.16">2</tspan><tspan dy="-3.16"></tspan></text>
<text transform="translate(247.4 174.1) scale(0.86 1)" font-size="9.3" letter-spacing="0.445" fill="#f51f1f" stroke="#f51f1f" text-anchor="end">25%-g-C<tspan font-size="5.77" dy="3.16">3</tspan><tspan dy="-3.16">N</tspan><tspan font-size="5.77" dy="3.16">4</tspan><tspan dy="-3.16">/UiO-66-NH</tspan><tspan font-size="5.77" dy="3.16">2</tspan><tspan dy="-3.16"></tspan></text>
<text transform="translate(247.4 232.9) scale(0.86 1)" font-size="9.3" letter-spacing="0.471" fill="#1c1c1c" stroke="#1c1c1c" text-anchor="end">UiO-66-NH<tspan font-size="5.77" dy="3.16">2</tspan><tspan dy="-3.16"></tspan></text>
<text transform="translate(440.6 73.0) scale(0.86 1)" font-size="9.0" letter-spacing="0.500" fill="#f68d1c" stroke="#f68d1c" text-anchor="end">g-C<tspan font-size="5.58" dy="3.06">3</tspan><tspan dy="-3.06">N</tspan><tspan font-size="5.58" dy="3.06">4</tspan><tspan dy="-3.06"></tspan></text>
<text transform="translate(449.9 103.4) scale(0.86 1)" font-size="9.0" letter-spacing="0.326" fill="#10aa40" stroke="#10aa40" text-anchor="end">75%-g-C<tspan font-size="5.58" dy="3.06">3</tspan><tspan dy="-3.06">N</tspan><tspan font-size="5.58" dy="3.06">4</tspan><tspan dy="-3.06">/UiO-66-NH</tspan><tspan font-size="5.58" dy="3.06">2</tspan><tspan dy="-3.06"></tspan></text>
<text transform="translate(449.9 139.65) scale(0.86 1)" font-size="9.0" letter-spacing="0.326" fill="#2222f0" stroke="#2222f0" text-anchor="end">50%-g-C<tspan font-size="5.58" dy="3.06">3</tspan><tspan dy="-3.06">N</tspan><tspan font-size="5.58" dy="3.06">4</tspan><tspan dy="-3.06">/UiO-66-NH</tspan><tspan font-size="5.58" dy="3.06">2</tspan><tspan dy="-3.06"></tspan></text>
<text transform="translate(449.9 166.75) scale(0.86 1)" font-size="9.0" letter-spacing="0.326" fill="#f51f1f" stroke="#f51f1f" text-anchor="end">25%-g-C<tspan font-size="5.58" dy="3.06">3</tspan><tspan dy="-3.06">N</tspan><tspan font-size="5.58" dy="3.06">4</tspan><tspan dy="-3.06">/UiO-66-NH</tspan><tspan font-size="5.58" dy="3.06">2</tspan><tspan dy="-3.06"></tspan></text>
<text transform="translate(444.7 203.3) scale(0.86 1)" font-size="9.0" letter-spacing="0.329" fill="#1c1c1c" stroke="#1c1c1c" text-anchor="end">UiO-66-NH<tspan font-size="5.58" dy="3.06">2</tspan><tspan dy="-3.06"></tspan></text>
<text transform="translate(69.6 16) rotate(-90)" font-size="6.4" textLength="16.5" lengthAdjust="spacingAndGlyphs" text-anchor="middle" fill="#f99a30" stroke="#f99a30" stroke-width="0.1">(100)</text>
<text transform="translate(109.1 15.2) rotate(-90)" font-size="6.4" textLength="16.5" lengthAdjust="spacingAndGlyphs" text-anchor="middle" fill="#f99a30" stroke="#f99a30" stroke-width="0.1">(002)</text>
<text transform="translate(44.0 193.3) rotate(-90)" font-size="6.4" textLength="16.5" lengthAdjust="spacingAndGlyphs" text-anchor="middle" fill="#1c1c1c" stroke="#1c1c1c" stroke-width="0.12">(111)</text>
<text transform="translate(57.1 211.9) rotate(-90)" font-size="6.4" textLength="16.5" lengthAdjust="spacingAndGlyphs" text-anchor="middle" fill="#1c1c1c" stroke="#1c1c1c" stroke-width="0.12">(200)</text>
</g>
<path d="M68.1 25.9V33.2" stroke="#f99a30" stroke-width="0.9" fill="none"/>
<path d="M66.6 32.6H69.6L68.1 36.9Z" fill="#f99a30"/>
</svg>
</body></html>
